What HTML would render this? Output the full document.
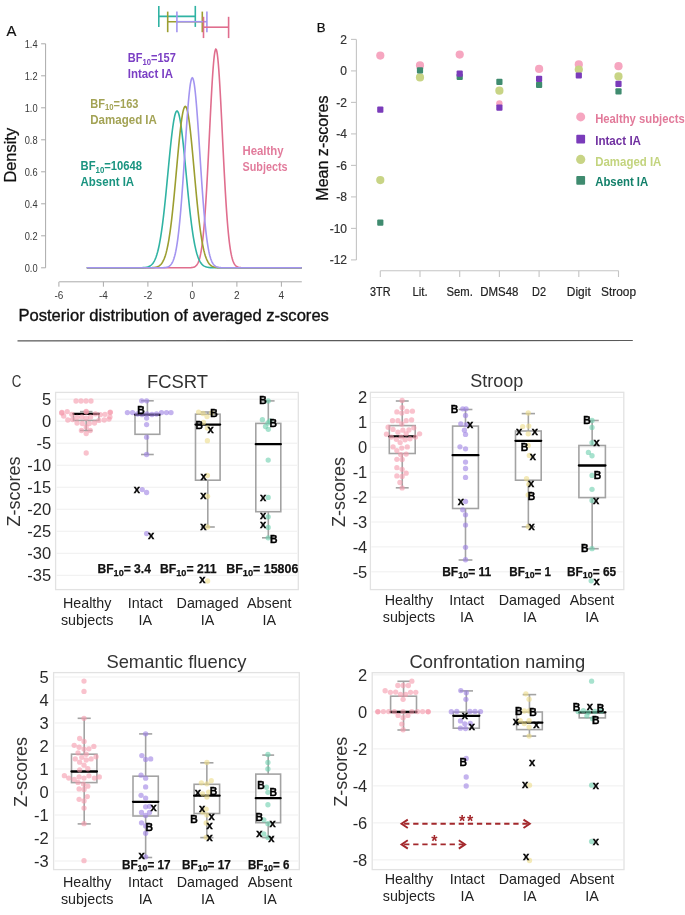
<!DOCTYPE html>
<html><head><meta charset="utf-8"><style>
html,body{margin:0;padding:0;background:#fff;}
svg{display:block;font-family:"Liberation Sans", sans-serif;will-change:transform;}
</style></head><body>
<svg width="685" height="915" viewBox="0 0 685 915">
<rect width="685" height="915" fill="#fff"/>
<text x="6.50" y="36.00" font-size="14.8" fill="#111" text-anchor="start" font-weight="normal" stroke="#111" stroke-width="0.2">A</text>
<line x1="45.60" y1="43.80" x2="45.60" y2="267.80" stroke="#aaa" stroke-width="1"/>
<line x1="41.10" y1="267.80" x2="45.60" y2="267.80" stroke="#aaa" stroke-width="1"/>
<text x="37.60" y="271.55" font-size="10.6" fill="#3a3a3a" text-anchor="end" font-weight="normal" textLength="12.9" lengthAdjust="spacingAndGlyphs">0.0</text>
<line x1="41.10" y1="235.80" x2="45.60" y2="235.80" stroke="#aaa" stroke-width="1"/>
<text x="37.60" y="239.55" font-size="10.6" fill="#3a3a3a" text-anchor="end" font-weight="normal" textLength="12.9" lengthAdjust="spacingAndGlyphs">0.2</text>
<line x1="41.10" y1="203.80" x2="45.60" y2="203.80" stroke="#aaa" stroke-width="1"/>
<text x="37.60" y="207.55" font-size="10.6" fill="#3a3a3a" text-anchor="end" font-weight="normal" textLength="12.9" lengthAdjust="spacingAndGlyphs">0.4</text>
<line x1="41.10" y1="171.80" x2="45.60" y2="171.80" stroke="#aaa" stroke-width="1"/>
<text x="37.60" y="175.55" font-size="10.6" fill="#3a3a3a" text-anchor="end" font-weight="normal" textLength="12.9" lengthAdjust="spacingAndGlyphs">0.6</text>
<line x1="41.10" y1="139.80" x2="45.60" y2="139.80" stroke="#aaa" stroke-width="1"/>
<text x="37.60" y="143.55" font-size="10.6" fill="#3a3a3a" text-anchor="end" font-weight="normal" textLength="12.9" lengthAdjust="spacingAndGlyphs">0.8</text>
<line x1="41.10" y1="107.80" x2="45.60" y2="107.80" stroke="#aaa" stroke-width="1"/>
<text x="37.60" y="111.55" font-size="10.6" fill="#3a3a3a" text-anchor="end" font-weight="normal" textLength="12.9" lengthAdjust="spacingAndGlyphs">1.0</text>
<line x1="41.10" y1="75.80" x2="45.60" y2="75.80" stroke="#aaa" stroke-width="1"/>
<text x="37.60" y="79.55" font-size="10.6" fill="#3a3a3a" text-anchor="end" font-weight="normal" textLength="12.9" lengthAdjust="spacingAndGlyphs">1.2</text>
<line x1="41.10" y1="43.80" x2="45.60" y2="43.80" stroke="#aaa" stroke-width="1"/>
<text x="37.60" y="47.55" font-size="10.6" fill="#3a3a3a" text-anchor="end" font-weight="normal" textLength="12.9" lengthAdjust="spacingAndGlyphs">1.4</text>
<line x1="59.20" y1="281.80" x2="301.80" y2="281.80" stroke="#aaa" stroke-width="1"/>
<line x1="58.90" y1="281.80" x2="58.90" y2="286.70" stroke="#aaa" stroke-width="1"/>
<text x="58.90" y="298.80" font-size="10" fill="#3a3a3a" text-anchor="middle" font-weight="normal">-6</text>
<line x1="103.40" y1="281.80" x2="103.40" y2="286.70" stroke="#aaa" stroke-width="1"/>
<text x="103.40" y="298.80" font-size="10" fill="#3a3a3a" text-anchor="middle" font-weight="normal">-4</text>
<line x1="147.90" y1="281.80" x2="147.90" y2="286.70" stroke="#aaa" stroke-width="1"/>
<text x="147.90" y="298.80" font-size="10" fill="#3a3a3a" text-anchor="middle" font-weight="normal">-2</text>
<line x1="192.40" y1="281.80" x2="192.40" y2="286.70" stroke="#aaa" stroke-width="1"/>
<text x="192.40" y="298.80" font-size="10" fill="#3a3a3a" text-anchor="middle" font-weight="normal">0</text>
<line x1="236.90" y1="281.80" x2="236.90" y2="286.70" stroke="#aaa" stroke-width="1"/>
<text x="236.90" y="298.80" font-size="10" fill="#3a3a3a" text-anchor="middle" font-weight="normal">2</text>
<line x1="281.40" y1="281.80" x2="281.40" y2="286.70" stroke="#aaa" stroke-width="1"/>
<text x="281.40" y="298.80" font-size="10" fill="#3a3a3a" text-anchor="middle" font-weight="normal">4</text>
<polyline points="86.80,267.80 87.30,267.80 87.80,267.80 88.30,267.80 88.80,267.80 89.30,267.80 89.80,267.80 90.30,267.80 90.80,267.80 91.30,267.80 91.80,267.80 92.30,267.80 92.80,267.80 93.30,267.80 93.80,267.80 94.30,267.80 94.80,267.80 95.30,267.80 95.80,267.80 96.30,267.80 96.80,267.80 97.30,267.80 97.80,267.80 98.30,267.80 98.80,267.80 99.30,267.80 99.80,267.80 100.30,267.80 100.80,267.80 101.30,267.80 101.80,267.80 102.30,267.80 102.80,267.80 103.30,267.80 103.80,267.80 104.30,267.80 104.80,267.80 105.30,267.80 105.80,267.80 106.30,267.80 106.80,267.80 107.30,267.80 107.80,267.80 108.30,267.80 108.80,267.80 109.30,267.80 109.80,267.80 110.30,267.80 110.80,267.80 111.30,267.80 111.80,267.80 112.30,267.80 112.80,267.80 113.30,267.80 113.80,267.80 114.30,267.80 114.80,267.80 115.30,267.80 115.80,267.80 116.30,267.80 116.80,267.80 117.30,267.80 117.80,267.80 118.30,267.80 118.80,267.80 119.30,267.80 119.80,267.80 120.30,267.80 120.80,267.80 121.30,267.80 121.80,267.80 122.30,267.80 122.80,267.80 123.30,267.80 123.80,267.80 124.30,267.80 124.80,267.80 125.30,267.80 125.80,267.80 126.30,267.80 126.80,267.80 127.30,267.80 127.80,267.80 128.30,267.80 128.80,267.80 129.30,267.80 129.80,267.80 130.30,267.80 130.80,267.80 131.30,267.80 131.80,267.80 132.30,267.80 132.80,267.80 133.30,267.80 133.80,267.80 134.30,267.80 134.80,267.80 135.30,267.80 135.80,267.80 136.30,267.80 136.80,267.80 137.30,267.80 137.80,267.80 138.30,267.80 138.80,267.80 139.30,267.80 139.80,267.80 140.30,267.80 140.80,267.80 141.30,267.80 141.80,267.80 142.30,267.80 142.80,267.80 143.30,267.80 143.80,267.80 144.30,267.80 144.80,267.80 145.30,267.80 145.80,267.80 146.30,267.80 146.80,267.80 147.30,267.80 147.80,267.80 148.30,267.80 148.80,267.80 149.30,267.80 149.80,267.80 150.30,267.80 150.80,267.80 151.30,267.80 151.80,267.80 152.30,267.80 152.80,267.80 153.30,267.80 153.80,267.80 154.30,267.80 154.80,267.80 155.30,267.80 155.80,267.80 156.30,267.80 156.80,267.80 157.30,267.80 157.80,267.80 158.30,267.80 158.80,267.80 159.30,267.80 159.80,267.80 160.30,267.80 160.80,267.80 161.30,267.80 161.80,267.80 162.30,267.80 162.80,267.80 163.30,267.80 163.80,267.80 164.30,267.80 164.80,267.80 165.30,267.80 165.80,267.80 166.30,267.80 166.80,267.80 167.30,267.80 167.80,267.80 168.30,267.80 168.80,267.80 169.30,267.80 169.80,267.80 170.30,267.80 170.80,267.80 171.30,267.80 171.80,267.80 172.30,267.80 172.80,267.80 173.30,267.80 173.80,267.80 174.30,267.80 174.80,267.80 175.30,267.80 175.80,267.80 176.30,267.80 176.80,267.80 177.30,267.80 177.80,267.80 178.30,267.80 178.80,267.80 179.30,267.80 179.80,267.80 180.30,267.80 180.80,267.80 181.30,267.80 181.80,267.80 182.30,267.80 182.80,267.80 183.30,267.80 183.80,267.80 184.30,267.80 184.80,267.80 185.30,267.80 185.80,267.80 186.30,267.79 186.80,267.79 187.30,267.79 187.80,267.78 188.30,267.77 188.80,267.76 189.30,267.75 189.80,267.73 190.30,267.71 190.80,267.68 191.30,267.63 191.80,267.58 192.30,267.50 192.80,267.41 193.30,267.29 193.80,267.13 194.30,266.94 194.80,266.69 195.30,266.37 195.80,265.99 196.30,265.50 196.80,264.91 197.30,264.19 197.80,263.31 198.30,262.25 198.80,260.98 199.30,259.47 199.80,257.69 200.30,255.60 200.80,253.16 201.30,250.35 201.80,247.11 202.30,243.41 202.80,239.23 203.30,234.53 203.80,229.28 204.30,223.46 204.80,217.08 205.30,210.11 205.80,202.57 206.30,194.49 206.80,185.89 207.30,176.83 207.80,167.36 208.30,157.56 208.80,147.52 209.30,137.34 209.80,127.13 210.30,117.03 210.80,107.15 211.30,97.64 211.80,88.63 212.30,80.26 212.80,72.66 213.30,65.95 213.80,60.24 214.30,55.64 214.80,52.22 215.30,50.03 215.80,49.13 216.30,49.51 216.80,51.19 217.30,54.13 217.80,58.27 218.30,63.54 218.80,69.86 219.30,77.12 219.80,85.20 220.30,93.97 220.80,103.30 221.30,113.04 221.80,123.07 222.30,133.25 222.80,143.46 223.30,153.57 223.80,163.48 224.30,173.09 224.80,182.32 225.30,191.11 225.80,199.41 226.30,207.16 226.80,214.36 227.30,220.98 227.80,227.02 228.30,232.49 228.80,237.41 229.30,241.80 229.80,245.69 230.30,249.10 230.80,252.08 231.30,254.67 231.80,256.89 232.30,258.79 232.80,260.41 233.30,261.77 233.80,262.91 234.30,263.86 234.80,264.64 235.30,265.28 235.80,265.80 236.30,266.23 236.80,266.57 237.30,266.84 237.80,267.06 238.30,267.23 238.80,267.36 239.30,267.47 239.80,267.55 240.30,267.61 240.80,267.66 241.30,267.70 241.80,267.72 242.30,267.74 242.80,267.76 243.30,267.77 243.80,267.78 244.30,267.78 244.80,267.79 245.30,267.79 245.80,267.79 246.30,267.80 246.80,267.80 247.30,267.80 247.80,267.80 248.30,267.80 248.80,267.80 249.30,267.80 249.80,267.80 250.30,267.80 250.80,267.80 251.30,267.80 251.80,267.80 252.30,267.80 252.80,267.80 253.30,267.80 253.80,267.80 254.30,267.80 254.80,267.80 255.30,267.80 255.80,267.80 256.30,267.80 256.80,267.80 257.30,267.80 257.80,267.80 258.30,267.80 258.80,267.80 259.30,267.80 259.80,267.80 260.30,267.80 260.80,267.80 261.30,267.80 261.80,267.80 262.30,267.80 262.80,267.80 263.30,267.80 263.80,267.80 264.30,267.80 264.80,267.80 265.30,267.80 265.80,267.80 266.30,267.80 266.80,267.80 267.30,267.80 267.80,267.80 268.30,267.80 268.80,267.80 269.30,267.80 269.80,267.80 270.30,267.80 270.80,267.80 271.30,267.80 271.80,267.80 272.30,267.80 272.80,267.80 273.30,267.80 273.80,267.80 274.30,267.80 274.80,267.80 275.30,267.80 275.80,267.80 276.30,267.80 276.80,267.80 277.30,267.80 277.80,267.80 278.30,267.80 278.80,267.80 279.30,267.80 279.80,267.80 280.30,267.80 280.80,267.80 281.30,267.80 281.80,267.80 282.30,267.80 282.80,267.80 283.30,267.80 283.80,267.80 284.30,267.80 284.80,267.80 285.30,267.80 285.80,267.80 286.30,267.80 286.80,267.80 287.30,267.80 287.80,267.80 288.30,267.80 288.80,267.80 289.30,267.80 289.80,267.80 290.30,267.80 290.80,267.80 291.30,267.80 291.80,267.80 292.30,267.80 292.80,267.80 293.30,267.80 293.80,267.80 294.30,267.80 294.80,267.80 295.30,267.80 295.80,267.80 296.30,267.80 296.80,267.80 297.30,267.80 297.80,267.80 298.30,267.80 298.80,267.80 299.30,267.80 299.80,267.80 300.30,267.80 300.80,267.80 301.30,267.80 301.80,267.80" fill="none" stroke="#e06e8e" stroke-width="1.6"/>
<polyline points="86.80,267.80 87.30,267.80 87.80,267.80 88.30,267.80 88.80,267.80 89.30,267.80 89.80,267.80 90.30,267.80 90.80,267.80 91.30,267.80 91.80,267.80 92.30,267.80 92.80,267.80 93.30,267.80 93.80,267.80 94.30,267.80 94.80,267.80 95.30,267.80 95.80,267.80 96.30,267.80 96.80,267.80 97.30,267.80 97.80,267.80 98.30,267.80 98.80,267.80 99.30,267.80 99.80,267.80 100.30,267.80 100.80,267.80 101.30,267.80 101.80,267.80 102.30,267.80 102.80,267.80 103.30,267.80 103.80,267.80 104.30,267.80 104.80,267.80 105.30,267.80 105.80,267.80 106.30,267.80 106.80,267.80 107.30,267.80 107.80,267.80 108.30,267.80 108.80,267.80 109.30,267.80 109.80,267.80 110.30,267.80 110.80,267.80 111.30,267.80 111.80,267.80 112.30,267.80 112.80,267.80 113.30,267.80 113.80,267.80 114.30,267.80 114.80,267.80 115.30,267.80 115.80,267.80 116.30,267.80 116.80,267.80 117.30,267.80 117.80,267.80 118.30,267.80 118.80,267.80 119.30,267.80 119.80,267.80 120.30,267.80 120.80,267.80 121.30,267.80 121.80,267.80 122.30,267.80 122.80,267.80 123.30,267.80 123.80,267.80 124.30,267.80 124.80,267.80 125.30,267.80 125.80,267.80 126.30,267.80 126.80,267.80 127.30,267.80 127.80,267.80 128.30,267.80 128.80,267.80 129.30,267.80 129.80,267.80 130.30,267.80 130.80,267.80 131.30,267.80 131.80,267.80 132.30,267.80 132.80,267.80 133.30,267.80 133.80,267.80 134.30,267.80 134.80,267.80 135.30,267.80 135.80,267.79 136.30,267.79 136.80,267.79 137.30,267.79 137.80,267.79 138.30,267.78 138.80,267.78 139.30,267.77 139.80,267.77 140.30,267.76 140.80,267.75 141.30,267.73 141.80,267.72 142.30,267.70 142.80,267.67 143.30,267.65 143.80,267.61 144.30,267.57 144.80,267.52 145.30,267.46 145.80,267.39 146.30,267.30 146.80,267.20 147.30,267.08 147.80,266.93 148.30,266.77 148.80,266.57 149.30,266.34 149.80,266.08 150.30,265.77 150.80,265.41 151.30,265.00 151.80,264.53 152.30,264.00 152.80,263.39 153.30,262.69 153.80,261.91 154.30,261.02 154.80,260.03 155.30,258.92 155.80,257.68 156.30,256.30 156.80,254.77 157.30,253.08 157.80,251.23 158.30,249.20 158.80,246.99 159.30,244.58 159.80,241.97 160.30,239.16 160.80,236.14 161.30,232.91 161.80,229.46 162.30,225.80 162.80,221.94 163.30,217.87 163.80,213.60 164.30,209.15 164.80,204.52 165.30,199.74 165.80,194.82 166.30,189.78 166.80,184.65 167.30,179.45 167.80,174.21 168.30,168.96 168.80,163.73 169.30,158.56 169.80,153.49 170.30,148.54 170.80,143.76 171.30,139.18 171.80,134.83 172.30,130.76 172.80,126.99 173.30,123.56 173.80,120.49 174.30,117.82 174.80,115.56 175.30,113.74 175.80,112.37 176.30,111.47 176.80,111.04 177.30,111.09 177.80,111.61 178.30,112.61 178.80,114.07 179.30,115.98 179.80,118.32 180.30,121.07 180.80,124.21 181.30,127.72 181.80,131.55 182.30,135.68 182.80,140.07 183.30,144.70 183.80,149.52 184.30,154.49 184.80,159.59 185.30,164.77 185.80,170.01 186.30,175.26 186.80,180.49 187.30,185.68 187.80,190.80 188.30,195.81 188.80,200.71 189.30,205.46 189.80,210.05 190.30,214.47 190.80,218.70 191.30,222.73 191.80,226.55 192.30,230.17 192.80,233.57 193.30,236.76 193.80,239.74 194.30,242.51 194.80,245.08 195.30,247.45 195.80,249.62 196.30,251.62 196.80,253.43 197.30,255.09 197.80,256.58 198.30,257.93 198.80,259.15 199.30,260.24 199.80,261.21 200.30,262.07 200.80,262.84 201.30,263.52 201.80,264.11 202.30,264.63 202.80,265.09 203.30,265.49 203.80,265.83 204.30,266.13 204.80,266.39 205.30,266.61 205.80,266.80 206.30,266.96 206.80,267.10 207.30,267.22 207.80,267.32 208.30,267.40 208.80,267.47 209.30,267.53 209.80,267.58 210.30,267.62 210.80,267.65 211.30,267.68 211.80,267.70 212.30,267.72 212.80,267.74 213.30,267.75 213.80,267.76 214.30,267.77 214.80,267.77 215.30,267.78 215.80,267.78 216.30,267.79 216.80,267.79 217.30,267.79 217.80,267.79 218.30,267.80 218.80,267.80 219.30,267.80 219.80,267.80 220.30,267.80 220.80,267.80 221.30,267.80 221.80,267.80 222.30,267.80 222.80,267.80 223.30,267.80 223.80,267.80 224.30,267.80 224.80,267.80 225.30,267.80 225.80,267.80 226.30,267.80 226.80,267.80 227.30,267.80 227.80,267.80 228.30,267.80 228.80,267.80 229.30,267.80 229.80,267.80 230.30,267.80 230.80,267.80 231.30,267.80 231.80,267.80 232.30,267.80 232.80,267.80 233.30,267.80 233.80,267.80 234.30,267.80 234.80,267.80 235.30,267.80 235.80,267.80 236.30,267.80 236.80,267.80 237.30,267.80 237.80,267.80 238.30,267.80 238.80,267.80 239.30,267.80 239.80,267.80 240.30,267.80 240.80,267.80 241.30,267.80 241.80,267.80 242.30,267.80 242.80,267.80 243.30,267.80 243.80,267.80 244.30,267.80 244.80,267.80 245.30,267.80 245.80,267.80 246.30,267.80 246.80,267.80 247.30,267.80 247.80,267.80 248.30,267.80 248.80,267.80 249.30,267.80 249.80,267.80 250.30,267.80 250.80,267.80 251.30,267.80 251.80,267.80 252.30,267.80 252.80,267.80 253.30,267.80 253.80,267.80 254.30,267.80 254.80,267.80 255.30,267.80 255.80,267.80 256.30,267.80 256.80,267.80 257.30,267.80 257.80,267.80 258.30,267.80 258.80,267.80 259.30,267.80 259.80,267.80 260.30,267.80 260.80,267.80 261.30,267.80 261.80,267.80 262.30,267.80 262.80,267.80 263.30,267.80 263.80,267.80 264.30,267.80 264.80,267.80 265.30,267.80 265.80,267.80 266.30,267.80 266.80,267.80 267.30,267.80 267.80,267.80 268.30,267.80 268.80,267.80 269.30,267.80 269.80,267.80 270.30,267.80 270.80,267.80 271.30,267.80 271.80,267.80 272.30,267.80 272.80,267.80 273.30,267.80 273.80,267.80 274.30,267.80 274.80,267.80 275.30,267.80 275.80,267.80 276.30,267.80 276.80,267.80 277.30,267.80 277.80,267.80 278.30,267.80 278.80,267.80 279.30,267.80 279.80,267.80 280.30,267.80 280.80,267.80 281.30,267.80 281.80,267.80 282.30,267.80 282.80,267.80 283.30,267.80 283.80,267.80 284.30,267.80 284.80,267.80 285.30,267.80 285.80,267.80 286.30,267.80 286.80,267.80 287.30,267.80 287.80,267.80 288.30,267.80 288.80,267.80 289.30,267.80 289.80,267.80 290.30,267.80 290.80,267.80 291.30,267.80 291.80,267.80 292.30,267.80 292.80,267.80 293.30,267.80 293.80,267.80 294.30,267.80 294.80,267.80 295.30,267.80 295.80,267.80 296.30,267.80 296.80,267.80 297.30,267.80 297.80,267.80 298.30,267.80 298.80,267.80 299.30,267.80 299.80,267.80 300.30,267.80 300.80,267.80 301.30,267.80 301.80,267.80" fill="none" stroke="#30b3a3" stroke-width="1.6"/>
<polyline points="86.80,267.80 87.30,267.80 87.80,267.80 88.30,267.80 88.80,267.80 89.30,267.80 89.80,267.80 90.30,267.80 90.80,267.80 91.30,267.80 91.80,267.80 92.30,267.80 92.80,267.80 93.30,267.80 93.80,267.80 94.30,267.80 94.80,267.80 95.30,267.80 95.80,267.80 96.30,267.80 96.80,267.80 97.30,267.80 97.80,267.80 98.30,267.80 98.80,267.80 99.30,267.80 99.80,267.80 100.30,267.80 100.80,267.80 101.30,267.80 101.80,267.80 102.30,267.80 102.80,267.80 103.30,267.80 103.80,267.80 104.30,267.80 104.80,267.80 105.30,267.80 105.80,267.80 106.30,267.80 106.80,267.80 107.30,267.80 107.80,267.80 108.30,267.80 108.80,267.80 109.30,267.80 109.80,267.80 110.30,267.80 110.80,267.80 111.30,267.80 111.80,267.80 112.30,267.80 112.80,267.80 113.30,267.80 113.80,267.80 114.30,267.80 114.80,267.80 115.30,267.80 115.80,267.80 116.30,267.80 116.80,267.80 117.30,267.80 117.80,267.80 118.30,267.80 118.80,267.80 119.30,267.80 119.80,267.80 120.30,267.80 120.80,267.80 121.30,267.80 121.80,267.80 122.30,267.80 122.80,267.80 123.30,267.80 123.80,267.80 124.30,267.80 124.80,267.80 125.30,267.80 125.80,267.80 126.30,267.80 126.80,267.80 127.30,267.80 127.80,267.80 128.30,267.80 128.80,267.80 129.30,267.80 129.80,267.80 130.30,267.80 130.80,267.80 131.30,267.80 131.80,267.80 132.30,267.80 132.80,267.80 133.30,267.80 133.80,267.80 134.30,267.80 134.80,267.80 135.30,267.80 135.80,267.80 136.30,267.80 136.80,267.80 137.30,267.80 137.80,267.80 138.30,267.80 138.80,267.80 139.30,267.80 139.80,267.80 140.30,267.80 140.80,267.80 141.30,267.80 141.80,267.80 142.30,267.80 142.80,267.80 143.30,267.80 143.80,267.80 144.30,267.80 144.80,267.80 145.30,267.79 145.80,267.79 146.30,267.79 146.80,267.79 147.30,267.79 147.80,267.78 148.30,267.78 148.80,267.77 149.30,267.76 149.80,267.75 150.30,267.74 150.80,267.73 151.30,267.71 151.80,267.69 152.30,267.66 152.80,267.63 153.30,267.59 153.80,267.54 154.30,267.48 154.80,267.41 155.30,267.32 155.80,267.22 156.30,267.10 156.80,266.96 157.30,266.79 157.80,266.59 158.30,266.35 158.80,266.08 159.30,265.76 159.80,265.39 160.30,264.96 160.80,264.47 161.30,263.91 161.80,263.26 162.30,262.52 162.80,261.69 163.30,260.74 163.80,259.68 164.30,258.48 164.80,257.14 165.30,255.65 165.80,253.99 166.30,252.16 166.80,250.15 167.30,247.93 167.80,245.52 168.30,242.89 168.80,240.04 169.30,236.96 169.80,233.65 170.30,230.11 170.80,226.34 171.30,222.34 171.80,218.11 172.30,213.66 172.80,209.01 173.30,204.16 173.80,199.14 174.30,193.96 174.80,188.64 175.30,183.22 175.80,177.71 176.30,172.16 176.80,166.59 177.30,161.04 177.80,155.55 178.30,150.16 178.80,144.91 179.30,139.85 179.80,135.00 180.30,130.41 180.80,126.12 181.30,122.18 181.80,118.60 182.30,115.43 182.80,112.70 183.30,110.42 183.80,108.63 184.30,107.34 184.80,106.56 185.30,106.30 185.80,106.56 186.30,107.34 186.80,108.63 187.30,110.42 187.80,112.70 188.30,115.43 188.80,118.60 189.30,122.18 189.80,126.12 190.30,130.41 190.80,135.00 191.30,139.85 191.80,144.91 192.30,150.16 192.80,155.55 193.30,161.04 193.80,166.59 194.30,172.16 194.80,177.71 195.30,183.22 195.80,188.64 196.30,193.96 196.80,199.14 197.30,204.16 197.80,209.01 198.30,213.66 198.80,218.11 199.30,222.34 199.80,226.34 200.30,230.11 200.80,233.65 201.30,236.96 201.80,240.04 202.30,242.89 202.80,245.52 203.30,247.93 203.80,250.15 204.30,252.16 204.80,253.99 205.30,255.65 205.80,257.14 206.30,258.48 206.80,259.68 207.30,260.74 207.80,261.69 208.30,262.52 208.80,263.26 209.30,263.91 209.80,264.47 210.30,264.96 210.80,265.39 211.30,265.76 211.80,266.08 212.30,266.35 212.80,266.59 213.30,266.79 213.80,266.96 214.30,267.10 214.80,267.22 215.30,267.32 215.80,267.41 216.30,267.48 216.80,267.54 217.30,267.59 217.80,267.63 218.30,267.66 218.80,267.69 219.30,267.71 219.80,267.73 220.30,267.74 220.80,267.75 221.30,267.76 221.80,267.77 222.30,267.78 222.80,267.78 223.30,267.79 223.80,267.79 224.30,267.79 224.80,267.79 225.30,267.79 225.80,267.80 226.30,267.80 226.80,267.80 227.30,267.80 227.80,267.80 228.30,267.80 228.80,267.80 229.30,267.80 229.80,267.80 230.30,267.80 230.80,267.80 231.30,267.80 231.80,267.80 232.30,267.80 232.80,267.80 233.30,267.80 233.80,267.80 234.30,267.80 234.80,267.80 235.30,267.80 235.80,267.80 236.30,267.80 236.80,267.80 237.30,267.80 237.80,267.80 238.30,267.80 238.80,267.80 239.30,267.80 239.80,267.80 240.30,267.80 240.80,267.80 241.30,267.80 241.80,267.80 242.30,267.80 242.80,267.80 243.30,267.80 243.80,267.80 244.30,267.80 244.80,267.80 245.30,267.80 245.80,267.80 246.30,267.80 246.80,267.80 247.30,267.80 247.80,267.80 248.30,267.80 248.80,267.80 249.30,267.80 249.80,267.80 250.30,267.80 250.80,267.80 251.30,267.80 251.80,267.80 252.30,267.80 252.80,267.80 253.30,267.80 253.80,267.80 254.30,267.80 254.80,267.80 255.30,267.80 255.80,267.80 256.30,267.80 256.80,267.80 257.30,267.80 257.80,267.80 258.30,267.80 258.80,267.80 259.30,267.80 259.80,267.80 260.30,267.80 260.80,267.80 261.30,267.80 261.80,267.80 262.30,267.80 262.80,267.80 263.30,267.80 263.80,267.80 264.30,267.80 264.80,267.80 265.30,267.80 265.80,267.80 266.30,267.80 266.80,267.80 267.30,267.80 267.80,267.80 268.30,267.80 268.80,267.80 269.30,267.80 269.80,267.80 270.30,267.80 270.80,267.80 271.30,267.80 271.80,267.80 272.30,267.80 272.80,267.80 273.30,267.80 273.80,267.80 274.30,267.80 274.80,267.80 275.30,267.80 275.80,267.80 276.30,267.80 276.80,267.80 277.30,267.80 277.80,267.80 278.30,267.80 278.80,267.80 279.30,267.80 279.80,267.80 280.30,267.80 280.80,267.80 281.30,267.80 281.80,267.80 282.30,267.80 282.80,267.80 283.30,267.80 283.80,267.80 284.30,267.80 284.80,267.80 285.30,267.80 285.80,267.80 286.30,267.80 286.80,267.80 287.30,267.80 287.80,267.80 288.30,267.80 288.80,267.80 289.30,267.80 289.80,267.80 290.30,267.80 290.80,267.80 291.30,267.80 291.80,267.80 292.30,267.80 292.80,267.80 293.30,267.80 293.80,267.80 294.30,267.80 294.80,267.80 295.30,267.80 295.80,267.80 296.30,267.80 296.80,267.80 297.30,267.80 297.80,267.80 298.30,267.80 298.80,267.80 299.30,267.80 299.80,267.80 300.30,267.80 300.80,267.80 301.30,267.80 301.80,267.80" fill="none" stroke="#9c9e30" stroke-width="1.6"/>
<polyline points="86.80,267.80 87.30,267.80 87.80,267.80 88.30,267.80 88.80,267.80 89.30,267.80 89.80,267.80 90.30,267.80 90.80,267.80 91.30,267.80 91.80,267.80 92.30,267.80 92.80,267.80 93.30,267.80 93.80,267.80 94.30,267.80 94.80,267.80 95.30,267.80 95.80,267.80 96.30,267.80 96.80,267.80 97.30,267.80 97.80,267.80 98.30,267.80 98.80,267.80 99.30,267.80 99.80,267.80 100.30,267.80 100.80,267.80 101.30,267.80 101.80,267.80 102.30,267.80 102.80,267.80 103.30,267.80 103.80,267.80 104.30,267.80 104.80,267.80 105.30,267.80 105.80,267.80 106.30,267.80 106.80,267.80 107.30,267.80 107.80,267.80 108.30,267.80 108.80,267.80 109.30,267.80 109.80,267.80 110.30,267.80 110.80,267.80 111.30,267.80 111.80,267.80 112.30,267.80 112.80,267.80 113.30,267.80 113.80,267.80 114.30,267.80 114.80,267.80 115.30,267.80 115.80,267.80 116.30,267.80 116.80,267.80 117.30,267.80 117.80,267.80 118.30,267.80 118.80,267.80 119.30,267.80 119.80,267.80 120.30,267.80 120.80,267.80 121.30,267.80 121.80,267.80 122.30,267.80 122.80,267.80 123.30,267.80 123.80,267.80 124.30,267.80 124.80,267.80 125.30,267.80 125.80,267.80 126.30,267.80 126.80,267.80 127.30,267.80 127.80,267.80 128.30,267.80 128.80,267.80 129.30,267.80 129.80,267.80 130.30,267.80 130.80,267.80 131.30,267.80 131.80,267.80 132.30,267.80 132.80,267.80 133.30,267.80 133.80,267.80 134.30,267.80 134.80,267.80 135.30,267.80 135.80,267.80 136.30,267.80 136.80,267.80 137.30,267.80 137.80,267.80 138.30,267.80 138.80,267.80 139.30,267.80 139.80,267.80 140.30,267.80 140.80,267.80 141.30,267.80 141.80,267.80 142.30,267.80 142.80,267.80 143.30,267.80 143.80,267.80 144.30,267.80 144.80,267.80 145.30,267.80 145.80,267.80 146.30,267.80 146.80,267.80 147.30,267.80 147.80,267.80 148.30,267.80 148.80,267.80 149.30,267.80 149.80,267.80 150.30,267.80 150.80,267.80 151.30,267.80 151.80,267.80 152.30,267.80 152.80,267.80 153.30,267.80 153.80,267.80 154.30,267.80 154.80,267.80 155.30,267.80 155.80,267.80 156.30,267.80 156.80,267.80 157.30,267.80 157.80,267.80 158.30,267.79 158.80,267.79 159.30,267.79 159.80,267.79 160.30,267.78 160.80,267.77 161.30,267.77 161.80,267.75 162.30,267.74 162.80,267.72 163.30,267.70 163.80,267.67 164.30,267.63 164.80,267.58 165.30,267.52 165.80,267.45 166.30,267.35 166.80,267.24 167.30,267.09 167.80,266.92 168.30,266.70 168.80,266.45 169.30,266.13 169.80,265.76 170.30,265.30 170.80,264.77 171.30,264.13 171.80,263.38 172.30,262.51 172.80,261.48 173.30,260.30 173.80,258.92 174.30,257.35 174.80,255.55 175.30,253.50 175.80,251.19 176.30,248.59 176.80,245.68 177.30,242.45 177.80,238.87 178.30,234.93 178.80,230.63 179.30,225.95 179.80,220.89 180.30,215.45 180.80,209.64 181.30,203.48 181.80,196.98 182.30,190.18 182.80,183.10 183.30,175.79 183.80,168.29 184.30,160.66 184.80,152.96 185.30,145.27 185.80,137.63 186.30,130.14 186.80,122.87 187.30,115.90 187.80,109.30 188.30,103.15 188.80,97.53 189.30,92.51 189.80,88.14 190.30,84.48 190.80,81.59 191.30,79.49 191.80,78.22 192.30,77.80 192.80,78.22 193.30,79.49 193.80,81.59 194.30,84.48 194.80,88.14 195.30,92.51 195.80,97.53 196.30,103.15 196.80,109.30 197.30,115.90 197.80,122.87 198.30,130.14 198.80,137.63 199.30,145.27 199.80,152.96 200.30,160.66 200.80,168.29 201.30,175.79 201.80,183.10 202.30,190.18 202.80,196.98 203.30,203.48 203.80,209.64 204.30,215.45 204.80,220.89 205.30,225.95 205.80,230.63 206.30,234.93 206.80,238.87 207.30,242.45 207.80,245.68 208.30,248.59 208.80,251.19 209.30,253.50 209.80,255.55 210.30,257.35 210.80,258.92 211.30,260.30 211.80,261.48 212.30,262.51 212.80,263.38 213.30,264.13 213.80,264.77 214.30,265.30 214.80,265.76 215.30,266.13 215.80,266.45 216.30,266.70 216.80,266.92 217.30,267.09 217.80,267.24 218.30,267.35 218.80,267.45 219.30,267.52 219.80,267.58 220.30,267.63 220.80,267.67 221.30,267.70 221.80,267.72 222.30,267.74 222.80,267.75 223.30,267.77 223.80,267.77 224.30,267.78 224.80,267.79 225.30,267.79 225.80,267.79 226.30,267.79 226.80,267.80 227.30,267.80 227.80,267.80 228.30,267.80 228.80,267.80 229.30,267.80 229.80,267.80 230.30,267.80 230.80,267.80 231.30,267.80 231.80,267.80 232.30,267.80 232.80,267.80 233.30,267.80 233.80,267.80 234.30,267.80 234.80,267.80 235.30,267.80 235.80,267.80 236.30,267.80 236.80,267.80 237.30,267.80 237.80,267.80 238.30,267.80 238.80,267.80 239.30,267.80 239.80,267.80 240.30,267.80 240.80,267.80 241.30,267.80 241.80,267.80 242.30,267.80 242.80,267.80 243.30,267.80 243.80,267.80 244.30,267.80 244.80,267.80 245.30,267.80 245.80,267.80 246.30,267.80 246.80,267.80 247.30,267.80 247.80,267.80 248.30,267.80 248.80,267.80 249.30,267.80 249.80,267.80 250.30,267.80 250.80,267.80 251.30,267.80 251.80,267.80 252.30,267.80 252.80,267.80 253.30,267.80 253.80,267.80 254.30,267.80 254.80,267.80 255.30,267.80 255.80,267.80 256.30,267.80 256.80,267.80 257.30,267.80 257.80,267.80 258.30,267.80 258.80,267.80 259.30,267.80 259.80,267.80 260.30,267.80 260.80,267.80 261.30,267.80 261.80,267.80 262.30,267.80 262.80,267.80 263.30,267.80 263.80,267.80 264.30,267.80 264.80,267.80 265.30,267.80 265.80,267.80 266.30,267.80 266.80,267.80 267.30,267.80 267.80,267.80 268.30,267.80 268.80,267.80 269.30,267.80 269.80,267.80 270.30,267.80 270.80,267.80 271.30,267.80 271.80,267.80 272.30,267.80 272.80,267.80 273.30,267.80 273.80,267.80 274.30,267.80 274.80,267.80 275.30,267.80 275.80,267.80 276.30,267.80 276.80,267.80 277.30,267.80 277.80,267.80 278.30,267.80 278.80,267.80 279.30,267.80 279.80,267.80 280.30,267.80 280.80,267.80 281.30,267.80 281.80,267.80 282.30,267.80 282.80,267.80 283.30,267.80 283.80,267.80 284.30,267.80 284.80,267.80 285.30,267.80 285.80,267.80 286.30,267.80 286.80,267.80 287.30,267.80 287.80,267.80 288.30,267.80 288.80,267.80 289.30,267.80 289.80,267.80 290.30,267.80 290.80,267.80 291.30,267.80 291.80,267.80 292.30,267.80 292.80,267.80 293.30,267.80 293.80,267.80 294.30,267.80 294.80,267.80 295.30,267.80 295.80,267.80 296.30,267.80 296.80,267.80 297.30,267.80 297.80,267.80 298.30,267.80 298.80,267.80 299.30,267.80 299.80,267.80 300.30,267.80 300.80,267.80 301.30,267.80 301.80,267.80" fill="none" stroke="#a394f0" stroke-width="1.6"/>
<line x1="158.80" y1="16.40" x2="195.30" y2="16.40" stroke="#30b3a3" stroke-width="1.6"/>
<line x1="158.80" y1="5.90" x2="158.80" y2="26.90" stroke="#30b3a3" stroke-width="1.6"/>
<line x1="195.30" y1="5.90" x2="195.30" y2="26.90" stroke="#30b3a3" stroke-width="1.6"/>
<line x1="167.70" y1="21.70" x2="202.30" y2="21.70" stroke="#9c9e30" stroke-width="1.6"/>
<line x1="167.70" y1="11.60" x2="167.70" y2="32.20" stroke="#9c9e30" stroke-width="1.6"/>
<line x1="202.30" y1="11.60" x2="202.30" y2="32.20" stroke="#9c9e30" stroke-width="1.6"/>
<line x1="176.90" y1="21.70" x2="206.90" y2="21.70" stroke="#a394f0" stroke-width="1.6"/>
<line x1="176.90" y1="11.60" x2="176.90" y2="32.20" stroke="#a394f0" stroke-width="1.6"/>
<line x1="206.90" y1="11.60" x2="206.90" y2="32.20" stroke="#a394f0" stroke-width="1.6"/>
<line x1="203.50" y1="27.20" x2="228.60" y2="27.20" stroke="#e06e8e" stroke-width="1.6"/>
<line x1="203.50" y1="16.80" x2="203.50" y2="38.10" stroke="#e06e8e" stroke-width="1.6"/>
<line x1="228.60" y1="16.80" x2="228.60" y2="38.10" stroke="#e06e8e" stroke-width="1.6"/>
<text x="127.7" y="62.3" font-size="12.3" font-weight="bold" fill="#7b3fc4" textLength="48.1" lengthAdjust="spacingAndGlyphs">BF<tspan font-size="8.6" dy="2.4">10</tspan><tspan dy="-2.4">=157</tspan></text>
<text x="127.70" y="77.90" font-size="12.3" fill="#7b3fc4" text-anchor="start" font-weight="bold" textLength="45.3" lengthAdjust="spacingAndGlyphs">Intact IA</text>
<text x="90.3" y="107.6" font-size="12.3" font-weight="bold" fill="#a3a355" textLength="48.1" lengthAdjust="spacingAndGlyphs">BF<tspan font-size="8.6" dy="2.4">10</tspan><tspan dy="-2.4">=163</tspan></text>
<text x="90.30" y="123.80" font-size="12.3" fill="#a3a355" text-anchor="start" font-weight="bold" textLength="66.6" lengthAdjust="spacingAndGlyphs">Damaged IA</text>
<text x="80.6" y="170.3" font-size="12.3" font-weight="bold" fill="#1a9480" textLength="61.5" lengthAdjust="spacingAndGlyphs">BF<tspan font-size="8.6" dy="2.4">10</tspan><tspan dy="-2.4">=10648</tspan></text>
<text x="80.60" y="186.00" font-size="12.3" fill="#1a9480" text-anchor="start" font-weight="bold" textLength="53.5" lengthAdjust="spacingAndGlyphs">Absent IA</text>
<text x="242.50" y="155.00" font-size="12.3" fill="#e27c9c" text-anchor="start" font-weight="bold" textLength="41.1" lengthAdjust="spacingAndGlyphs">Healthy</text>
<text x="242.50" y="170.90" font-size="12.3" fill="#e27c9c" text-anchor="start" font-weight="bold" textLength="45.0" lengthAdjust="spacingAndGlyphs">Subjects</text>
<text x="18.40" y="320.60" font-size="16.5" fill="#111" text-anchor="start" font-weight="normal" textLength="310.5" lengthAdjust="spacingAndGlyphs" stroke="#111" stroke-width="0.35">Posterior distribution of averaged z-scores</text>
<text x="15.60" y="182.60" font-size="16.5" fill="#111" text-anchor="start" font-weight="normal" textLength="54.7" lengthAdjust="spacingAndGlyphs" transform="rotate(-90 15.60 182.60)" stroke="#111" stroke-width="0.25">Density</text>
<text x="316.80" y="32.10" font-size="13.2" fill="#111" text-anchor="start" font-weight="normal" stroke="#111" stroke-width="0.25">B</text>
<line x1="356.40" y1="39.40" x2="356.40" y2="260.00" stroke="#c4c4c4" stroke-width="1.1"/>
<line x1="351.00" y1="39.40" x2="356.40" y2="39.40" stroke="#c4c4c4" stroke-width="1.1"/>
<text x="347.00" y="43.60" font-size="12" fill="#333" text-anchor="end" font-weight="normal" stroke="#333" stroke-width="0.2">2</text>
<line x1="351.00" y1="70.90" x2="356.40" y2="70.90" stroke="#c4c4c4" stroke-width="1.1"/>
<text x="347.00" y="75.10" font-size="12" fill="#333" text-anchor="end" font-weight="normal" stroke="#333" stroke-width="0.2">0</text>
<line x1="351.00" y1="102.40" x2="356.40" y2="102.40" stroke="#c4c4c4" stroke-width="1.1"/>
<text x="347.00" y="106.60" font-size="12" fill="#333" text-anchor="end" font-weight="normal" stroke="#333" stroke-width="0.2">-2</text>
<line x1="351.00" y1="133.90" x2="356.40" y2="133.90" stroke="#c4c4c4" stroke-width="1.1"/>
<text x="347.00" y="138.10" font-size="12" fill="#333" text-anchor="end" font-weight="normal" stroke="#333" stroke-width="0.2">-4</text>
<line x1="351.00" y1="165.40" x2="356.40" y2="165.40" stroke="#c4c4c4" stroke-width="1.1"/>
<text x="347.00" y="169.60" font-size="12" fill="#333" text-anchor="end" font-weight="normal" stroke="#333" stroke-width="0.2">-6</text>
<line x1="351.00" y1="196.90" x2="356.40" y2="196.90" stroke="#c4c4c4" stroke-width="1.1"/>
<text x="347.00" y="201.10" font-size="12" fill="#333" text-anchor="end" font-weight="normal" stroke="#333" stroke-width="0.2">-8</text>
<line x1="351.00" y1="228.40" x2="356.40" y2="228.40" stroke="#c4c4c4" stroke-width="1.1"/>
<text x="347.00" y="232.60" font-size="12" fill="#333" text-anchor="end" font-weight="normal" stroke="#333" stroke-width="0.2">-10</text>
<line x1="351.00" y1="259.90" x2="356.40" y2="259.90" stroke="#c4c4c4" stroke-width="1.1"/>
<text x="347.00" y="264.10" font-size="12" fill="#333" text-anchor="end" font-weight="normal" stroke="#333" stroke-width="0.2">-12</text>
<line x1="380.30" y1="270.70" x2="618.50" y2="270.70" stroke="#c4c4c4" stroke-width="1.1"/>
<line x1="380.30" y1="270.70" x2="380.30" y2="277.00" stroke="#c4c4c4" stroke-width="1.1"/>
<text x="380.30" y="296.20" font-size="13" fill="#222" text-anchor="middle" font-weight="normal" textLength="20.5" lengthAdjust="spacingAndGlyphs" stroke="#222" stroke-width="0.2">3TR</text>
<line x1="420.00" y1="270.70" x2="420.00" y2="277.00" stroke="#c4c4c4" stroke-width="1.1"/>
<text x="420.00" y="296.20" font-size="13" fill="#222" text-anchor="middle" font-weight="normal" textLength="15.2" lengthAdjust="spacingAndGlyphs" stroke="#222" stroke-width="0.2">Lit.</text>
<line x1="459.70" y1="270.70" x2="459.70" y2="277.00" stroke="#c4c4c4" stroke-width="1.1"/>
<text x="459.70" y="296.20" font-size="13" fill="#222" text-anchor="middle" font-weight="normal" textLength="26.3" lengthAdjust="spacingAndGlyphs" stroke="#222" stroke-width="0.2">Sem.</text>
<line x1="499.40" y1="270.70" x2="499.40" y2="277.00" stroke="#c4c4c4" stroke-width="1.1"/>
<text x="499.40" y="296.20" font-size="13" fill="#222" text-anchor="middle" font-weight="normal" textLength="38.2" lengthAdjust="spacingAndGlyphs" stroke="#222" stroke-width="0.2">DMS48</text>
<line x1="539.10" y1="270.70" x2="539.10" y2="277.00" stroke="#c4c4c4" stroke-width="1.1"/>
<text x="539.10" y="296.20" font-size="13" fill="#222" text-anchor="middle" font-weight="normal" textLength="14" lengthAdjust="spacingAndGlyphs" stroke="#222" stroke-width="0.2">D2</text>
<line x1="578.80" y1="270.70" x2="578.80" y2="277.00" stroke="#c4c4c4" stroke-width="1.1"/>
<text x="578.80" y="296.20" font-size="13" fill="#222" text-anchor="middle" font-weight="normal" textLength="23.9" lengthAdjust="spacingAndGlyphs" stroke="#222" stroke-width="0.2">Digit</text>
<line x1="618.50" y1="270.70" x2="618.50" y2="277.00" stroke="#c4c4c4" stroke-width="1.1"/>
<text x="618.50" y="296.20" font-size="13" fill="#222" text-anchor="middle" font-weight="normal" textLength="35" lengthAdjust="spacingAndGlyphs" stroke="#222" stroke-width="0.2">Stroop</text>
<text x="328.20" y="200.70" font-size="15.8" fill="#111" text-anchor="start" font-weight="normal" textLength="105.2" lengthAdjust="spacingAndGlyphs" transform="rotate(-90 328.20 200.70)" stroke="#111" stroke-width="0.25">Mean z-scores</text>
<circle cx="380.30" cy="55.60" r="4.1" fill="#f6a6c0"/>
<circle cx="380.30" cy="180.10" r="4.1" fill="#c8d485"/>
<rect x="377.20" y="219.60" width="6.2" height="6.2" rx="1" fill="#3f8b6f"/>
<rect x="377.20" y="106.60" width="6.2" height="6.2" rx="1" fill="#7a3bba"/>
<circle cx="420.00" cy="65.40" r="4.1" fill="#f6a6c0"/>
<circle cx="420.00" cy="77.40" r="4.1" fill="#c8d485"/>
<rect x="416.90" y="67.30" width="6.2" height="6.2" rx="1" fill="#3f8b6f"/>
<circle cx="459.70" cy="54.60" r="4.1" fill="#f6a6c0"/>
<rect x="456.60" y="73.70" width="6.2" height="6.2" rx="1" fill="#3f8b6f"/>
<rect x="456.60" y="70.50" width="6.2" height="6.2" rx="1" fill="#7a3bba"/>
<circle cx="499.40" cy="103.50" r="3.2" fill="#f6a6c0"/>
<circle cx="499.40" cy="90.70" r="4.1" fill="#c8d485"/>
<rect x="496.30" y="78.70" width="6.2" height="6.2" rx="1" fill="#3f8b6f"/>
<rect x="496.30" y="104.50" width="6.2" height="6.2" rx="1" fill="#7a3bba"/>
<circle cx="539.10" cy="68.90" r="4.1" fill="#f6a6c0"/>
<rect x="536.00" y="81.70" width="6.2" height="6.2" rx="1" fill="#3f8b6f"/>
<rect x="536.00" y="75.70" width="6.2" height="6.2" rx="1" fill="#7a3bba"/>
<circle cx="578.80" cy="64.40" r="4.1" fill="#f6a6c0"/>
<circle cx="578.80" cy="69.50" r="4.1" fill="#c8d485"/>
<rect x="575.70" y="72.40" width="6.2" height="6.2" rx="1" fill="#7a3bba"/>
<circle cx="618.50" cy="66.20" r="4.1" fill="#f6a6c0"/>
<circle cx="618.50" cy="76.40" r="4.1" fill="#c8d485"/>
<rect x="615.40" y="88.30" width="6.2" height="6.2" rx="1" fill="#3f8b6f"/>
<rect x="615.40" y="80.80" width="6.2" height="6.2" rx="1" fill="#7a3bba"/>
<circle cx="580.70" cy="116.90" r="4.5" fill="#f6a6c0"/>
<rect x="576.30" y="134.80" width="8.8" height="8.8" rx="1" fill="#7a3bba"/>
<circle cx="580.70" cy="159.40" r="4.6" fill="#c8d485"/>
<rect x="576.30" y="176.00" width="8.8" height="8.8" rx="1" fill="#3f8b6f"/>
<text x="595.20" y="123.40" font-size="12.8" fill="#e27a9a" text-anchor="start" font-weight="bold" textLength="89.5" lengthAdjust="spacingAndGlyphs">Healthy subjects</text>
<text x="595.20" y="144.50" font-size="12.8" fill="#7030a0" text-anchor="start" font-weight="bold" textLength="45.8" lengthAdjust="spacingAndGlyphs">Intact IA</text>
<text x="595.20" y="165.50" font-size="12.8" fill="#c3d47e" text-anchor="start" font-weight="bold" textLength="66.2" lengthAdjust="spacingAndGlyphs">Damaged IA</text>
<text x="595.20" y="185.50" font-size="12.8" fill="#13806a" text-anchor="start" font-weight="bold" textLength="53" lengthAdjust="spacingAndGlyphs">Absent IA</text>
<line x1="17.50" y1="340.80" x2="632.80" y2="340.50" stroke="#5a5a5a" stroke-width="1.2"/>
<text x="11.70" y="387.20" font-size="15.8" fill="#333" text-anchor="start" font-weight="normal" textLength="9.6" lengthAdjust="spacingAndGlyphs">C</text>
<rect x="55.60" y="392.40" width="242.70" height="197.20" fill="#fff" stroke="#e2e2e2" stroke-width="1.3"/>
<line x1="56.60" y1="399.19" x2="297.30" y2="399.19" stroke="#efefef" stroke-width="1.0"/>
<text x="51.20" y="405.09" font-size="16.5" fill="#2a2a2a" text-anchor="end" font-weight="normal">5</text>
<line x1="56.60" y1="421.20" x2="297.30" y2="421.20" stroke="#efefef" stroke-width="1.0"/>
<text x="51.20" y="427.10" font-size="16.5" fill="#2a2a2a" text-anchor="end" font-weight="normal">0</text>
<line x1="56.60" y1="443.21" x2="297.30" y2="443.21" stroke="#efefef" stroke-width="1.0"/>
<text x="51.20" y="449.11" font-size="16.5" fill="#2a2a2a" text-anchor="end" font-weight="normal">-5</text>
<line x1="56.60" y1="465.22" x2="297.30" y2="465.22" stroke="#efefef" stroke-width="1.0"/>
<text x="51.20" y="471.12" font-size="16.5" fill="#2a2a2a" text-anchor="end" font-weight="normal">-10</text>
<line x1="56.60" y1="487.24" x2="297.30" y2="487.24" stroke="#efefef" stroke-width="1.0"/>
<text x="51.20" y="493.14" font-size="16.5" fill="#2a2a2a" text-anchor="end" font-weight="normal">-15</text>
<line x1="56.60" y1="509.25" x2="297.30" y2="509.25" stroke="#efefef" stroke-width="1.0"/>
<text x="51.20" y="515.15" font-size="16.5" fill="#2a2a2a" text-anchor="end" font-weight="normal">-20</text>
<line x1="56.60" y1="531.26" x2="297.30" y2="531.26" stroke="#efefef" stroke-width="1.0"/>
<text x="51.20" y="537.16" font-size="16.5" fill="#2a2a2a" text-anchor="end" font-weight="normal">-25</text>
<line x1="56.60" y1="553.27" x2="297.30" y2="553.27" stroke="#efefef" stroke-width="1.0"/>
<text x="51.20" y="559.17" font-size="16.5" fill="#2a2a2a" text-anchor="end" font-weight="normal">-30</text>
<line x1="56.60" y1="575.29" x2="297.30" y2="575.29" stroke="#efefef" stroke-width="1.0"/>
<text x="51.20" y="581.19" font-size="16.5" fill="#2a2a2a" text-anchor="end" font-weight="normal">-35</text>
<text x="177.50" y="387.60" font-size="18.4" fill="#333" text-anchor="middle" font-weight="normal">FCSRT</text>
<text x="20.20" y="491.40" font-size="18" fill="#333" text-anchor="middle" font-weight="normal" transform="rotate(-90 20.20 491.40)">Z-scores</text>
<text x="87.20" y="608.30" font-size="14.3" fill="#222" text-anchor="middle" font-weight="normal">Healthy</text>
<text x="87.20" y="625.25" font-size="14.3" fill="#222" text-anchor="middle" font-weight="normal">subjects</text>
<text x="145.30" y="608.30" font-size="14.3" fill="#222" text-anchor="middle" font-weight="normal">Intact</text>
<text x="145.30" y="625.25" font-size="14.3" fill="#222" text-anchor="middle" font-weight="normal">IA</text>
<text x="207.60" y="608.30" font-size="14.3" fill="#222" text-anchor="middle" font-weight="normal">Damaged</text>
<text x="207.60" y="625.25" font-size="14.3" fill="#222" text-anchor="middle" font-weight="normal">IA</text>
<text x="269.30" y="608.30" font-size="14.3" fill="#222" text-anchor="middle" font-weight="normal">Absent</text>
<text x="269.30" y="625.25" font-size="14.3" fill="#222" text-anchor="middle" font-weight="normal">IA</text>
<line x1="86.20" y1="411.60" x2="86.20" y2="413.80" stroke="#a3a3a3" stroke-width="1.6"/>
<line x1="79.95" y1="411.60" x2="92.45" y2="411.60" stroke="#a3a3a3" stroke-width="1.6"/>
<line x1="86.20" y1="420.40" x2="86.20" y2="430.50" stroke="#a3a3a3" stroke-width="1.6"/>
<line x1="79.95" y1="430.50" x2="92.45" y2="430.50" stroke="#a3a3a3" stroke-width="1.6"/>
<rect x="73.50" y="413.80" width="25.40" height="6.60" fill="none" stroke="#a3a3a3" stroke-width="1.6"/>
<line x1="147.40" y1="400.80" x2="147.40" y2="414.60" stroke="#a3a3a3" stroke-width="1.6"/>
<line x1="141.05" y1="400.80" x2="153.75" y2="400.80" stroke="#a3a3a3" stroke-width="1.6"/>
<line x1="147.40" y1="434.30" x2="147.40" y2="454.50" stroke="#a3a3a3" stroke-width="1.6"/>
<line x1="141.05" y1="454.50" x2="153.75" y2="454.50" stroke="#a3a3a3" stroke-width="1.6"/>
<rect x="135.00" y="414.60" width="24.80" height="19.70" fill="none" stroke="#a3a3a3" stroke-width="1.6"/>
<line x1="207.80" y1="412.00" x2="207.80" y2="414.20" stroke="#a3a3a3" stroke-width="1.6"/>
<line x1="200.80" y1="412.00" x2="214.80" y2="412.00" stroke="#a3a3a3" stroke-width="1.6"/>
<line x1="207.80" y1="480.20" x2="207.80" y2="527.00" stroke="#a3a3a3" stroke-width="1.6"/>
<line x1="200.80" y1="527.00" x2="214.80" y2="527.00" stroke="#a3a3a3" stroke-width="1.6"/>
<rect x="195.50" y="414.20" width="24.60" height="66.00" fill="none" stroke="#a3a3a3" stroke-width="1.6"/>
<line x1="268.30" y1="400.90" x2="268.30" y2="423.40" stroke="#a3a3a3" stroke-width="1.6"/>
<line x1="262.00" y1="400.90" x2="274.60" y2="400.90" stroke="#a3a3a3" stroke-width="1.6"/>
<line x1="268.30" y1="511.70" x2="268.30" y2="537.80" stroke="#a3a3a3" stroke-width="1.6"/>
<line x1="262.00" y1="537.80" x2="274.60" y2="537.80" stroke="#a3a3a3" stroke-width="1.6"/>
<rect x="255.80" y="423.40" width="25.00" height="88.30" fill="none" stroke="#a3a3a3" stroke-width="1.6"/>
<line x1="73.50" y1="413.80" x2="98.90" y2="413.80" stroke="#000" stroke-width="2.3" stroke-linecap="round"/>
<line x1="135.00" y1="414.60" x2="159.80" y2="414.60" stroke="#000" stroke-width="2.3" stroke-linecap="round"/>
<line x1="195.50" y1="424.60" x2="220.10" y2="424.60" stroke="#000" stroke-width="2.3" stroke-linecap="round"/>
<line x1="255.80" y1="444.20" x2="280.80" y2="444.20" stroke="#000" stroke-width="2.3" stroke-linecap="round"/>
<circle cx="76.00" cy="401.00" r="2.65" fill="#f59aac" fill-opacity="0.6"/>
<circle cx="81.00" cy="401.00" r="2.65" fill="#f59aac" fill-opacity="0.6"/>
<circle cx="86.00" cy="401.00" r="2.65" fill="#f59aac" fill-opacity="0.6"/>
<circle cx="91.00" cy="401.00" r="2.65" fill="#f59aac" fill-opacity="0.6"/>
<circle cx="61.70" cy="413.00" r="2.65" fill="#f59aac" fill-opacity="0.6"/>
<circle cx="61.90" cy="412.50" r="2.65" fill="#f59aac" fill-opacity="0.6"/>
<circle cx="67.20" cy="411.60" r="2.65" fill="#f59aac" fill-opacity="0.6"/>
<circle cx="63.70" cy="416.00" r="2.65" fill="#f59aac" fill-opacity="0.6"/>
<circle cx="71.80" cy="414.30" r="2.65" fill="#f59aac" fill-opacity="0.6"/>
<circle cx="67.80" cy="420.00" r="2.65" fill="#f59aac" fill-opacity="0.6"/>
<circle cx="72.60" cy="419.50" r="2.65" fill="#f59aac" fill-opacity="0.6"/>
<circle cx="77.00" cy="417.30" r="2.65" fill="#f59aac" fill-opacity="0.6"/>
<circle cx="81.80" cy="416.90" r="2.65" fill="#f59aac" fill-opacity="0.6"/>
<circle cx="86.20" cy="412.00" r="2.65" fill="#f59aac" fill-opacity="0.6"/>
<circle cx="86.20" cy="411.50" r="2.65" fill="#f59aac" fill-opacity="0.6"/>
<circle cx="86.20" cy="418.20" r="2.65" fill="#f59aac" fill-opacity="0.6"/>
<circle cx="90.60" cy="416.90" r="2.65" fill="#f59aac" fill-opacity="0.6"/>
<circle cx="95.40" cy="413.80" r="2.65" fill="#f59aac" fill-opacity="0.6"/>
<circle cx="100.20" cy="414.70" r="2.65" fill="#f59aac" fill-opacity="0.6"/>
<circle cx="105.00" cy="414.30" r="2.65" fill="#f59aac" fill-opacity="0.6"/>
<circle cx="110.30" cy="412.10" r="2.65" fill="#f59aac" fill-opacity="0.6"/>
<circle cx="110.10" cy="412.60" r="2.65" fill="#f59aac" fill-opacity="0.6"/>
<circle cx="109.90" cy="416.90" r="2.65" fill="#f59aac" fill-opacity="0.6"/>
<circle cx="98.90" cy="420.40" r="2.65" fill="#f59aac" fill-opacity="0.6"/>
<circle cx="104.20" cy="420.00" r="2.65" fill="#f59aac" fill-opacity="0.6"/>
<circle cx="109.00" cy="419.10" r="2.65" fill="#f59aac" fill-opacity="0.6"/>
<circle cx="77.00" cy="423.00" r="2.65" fill="#f59aac" fill-opacity="0.6"/>
<circle cx="82.30" cy="423.50" r="2.65" fill="#f59aac" fill-opacity="0.6"/>
<circle cx="89.30" cy="423.50" r="2.65" fill="#f59aac" fill-opacity="0.6"/>
<circle cx="94.50" cy="423.00" r="2.65" fill="#f59aac" fill-opacity="0.6"/>
<circle cx="86.20" cy="427.00" r="2.65" fill="#f59aac" fill-opacity="0.6"/>
<circle cx="81.40" cy="430.50" r="2.65" fill="#f59aac" fill-opacity="0.6"/>
<circle cx="90.20" cy="430.50" r="2.65" fill="#f59aac" fill-opacity="0.6"/>
<circle cx="86.20" cy="433.50" r="2.65" fill="#f59aac" fill-opacity="0.6"/>
<circle cx="86.20" cy="453.00" r="2.65" fill="#f59aac" fill-opacity="0.6"/>
<circle cx="141.70" cy="400.80" r="2.65" fill="#9d80e2" fill-opacity="0.6"/>
<circle cx="146.60" cy="400.80" r="2.65" fill="#9d80e2" fill-opacity="0.6"/>
<circle cx="127.40" cy="412.60" r="2.65" fill="#9d80e2" fill-opacity="0.6"/>
<circle cx="132.50" cy="412.60" r="2.65" fill="#9d80e2" fill-opacity="0.6"/>
<circle cx="137.50" cy="414.00" r="2.65" fill="#9d80e2" fill-opacity="0.6"/>
<circle cx="142.00" cy="414.50" r="2.65" fill="#9d80e2" fill-opacity="0.6"/>
<circle cx="147.00" cy="414.00" r="2.65" fill="#9d80e2" fill-opacity="0.6"/>
<circle cx="152.00" cy="414.50" r="2.65" fill="#9d80e2" fill-opacity="0.6"/>
<circle cx="156.50" cy="414.00" r="2.65" fill="#9d80e2" fill-opacity="0.6"/>
<circle cx="161.50" cy="412.60" r="2.65" fill="#9d80e2" fill-opacity="0.6"/>
<circle cx="166.50" cy="412.60" r="2.65" fill="#9d80e2" fill-opacity="0.6"/>
<circle cx="171.00" cy="412.60" r="2.65" fill="#9d80e2" fill-opacity="0.6"/>
<circle cx="146.60" cy="418.10" r="2.65" fill="#9d80e2" fill-opacity="0.6"/>
<circle cx="146.60" cy="424.60" r="2.65" fill="#9d80e2" fill-opacity="0.6"/>
<circle cx="146.60" cy="437.20" r="2.65" fill="#9d80e2" fill-opacity="0.6"/>
<circle cx="146.60" cy="454.50" r="2.65" fill="#9d80e2" fill-opacity="0.6"/>
<circle cx="142.20" cy="489.60" r="2.65" fill="#9d80e2" fill-opacity="0.6"/>
<circle cx="146.60" cy="492.50" r="2.65" fill="#9d80e2" fill-opacity="0.6"/>
<circle cx="146.60" cy="533.60" r="2.65" fill="#9d80e2" fill-opacity="0.6"/>
<circle cx="198.60" cy="412.10" r="2.65" fill="#ecdc88" fill-opacity="0.6"/>
<circle cx="203.00" cy="413.50" r="2.65" fill="#ecdc88" fill-opacity="0.6"/>
<circle cx="207.00" cy="416.60" r="2.65" fill="#ecdc88" fill-opacity="0.6"/>
<circle cx="211.50" cy="412.90" r="2.65" fill="#ecdc88" fill-opacity="0.6"/>
<circle cx="203.50" cy="422.50" r="2.65" fill="#ecdc88" fill-opacity="0.6"/>
<circle cx="207.40" cy="428.00" r="2.65" fill="#ecdc88" fill-opacity="0.6"/>
<circle cx="207.40" cy="440.70" r="2.65" fill="#ecdc88" fill-opacity="0.6"/>
<circle cx="207.40" cy="475.50" r="2.65" fill="#ecdc88" fill-opacity="0.6"/>
<circle cx="207.60" cy="496.30" r="2.65" fill="#ecdc88" fill-opacity="0.6"/>
<circle cx="207.60" cy="527.00" r="2.65" fill="#ecdc88" fill-opacity="0.6"/>
<circle cx="207.60" cy="581.00" r="2.65" fill="#ecdc88" fill-opacity="0.6"/>
<circle cx="268.20" cy="400.90" r="2.65" fill="#6dceae" fill-opacity="0.6"/>
<circle cx="262.40" cy="419.70" r="2.65" fill="#6dceae" fill-opacity="0.6"/>
<circle cx="268.00" cy="423.00" r="2.65" fill="#6dceae" fill-opacity="0.6"/>
<circle cx="265.50" cy="426.50" r="2.65" fill="#6dceae" fill-opacity="0.6"/>
<circle cx="268.30" cy="429.30" r="2.65" fill="#6dceae" fill-opacity="0.6"/>
<circle cx="270.00" cy="421.00" r="2.65" fill="#6dceae" fill-opacity="0.6"/>
<circle cx="268.20" cy="460.10" r="2.65" fill="#6dceae" fill-opacity="0.6"/>
<circle cx="268.20" cy="497.40" r="2.65" fill="#6dceae" fill-opacity="0.6"/>
<circle cx="268.20" cy="516.80" r="2.65" fill="#6dceae" fill-opacity="0.6"/>
<circle cx="268.20" cy="527.40" r="2.65" fill="#6dceae" fill-opacity="0.6"/>
<circle cx="268.20" cy="537.80" r="2.65" fill="#6dceae" fill-opacity="0.6"/>
<text x="141.00" y="413.55" font-size="10.4" font-weight="bold" fill="#000" stroke="#000" stroke-width="0.35" text-anchor="middle">B</text>
<text x="213.90" y="417.05" font-size="10.4" font-weight="bold" fill="#000" stroke="#000" stroke-width="0.35" text-anchor="middle">B</text>
<text x="199.20" y="428.95" font-size="10.4" font-weight="bold" fill="#000" stroke="#000" stroke-width="0.35" text-anchor="middle">B</text>
<text x="263.00" y="404.45" font-size="10.4" font-weight="bold" fill="#000" stroke="#000" stroke-width="0.35" text-anchor="middle">B</text>
<text x="273.20" y="427.35" font-size="10.4" font-weight="bold" fill="#000" stroke="#000" stroke-width="0.35" text-anchor="middle">B</text>
<text x="273.80" y="542.85" font-size="10.4" font-weight="bold" fill="#000" stroke="#000" stroke-width="0.35" text-anchor="middle">B</text>
<text x="136.80" y="492.80" font-size="11.2" font-weight="bold" fill="#000" stroke="#000" stroke-width="0.35" text-anchor="middle">x</text>
<text x="151.00" y="538.90" font-size="11.2" font-weight="bold" fill="#000" stroke="#000" stroke-width="0.35" text-anchor="middle">x</text>
<text x="210.50" y="433.00" font-size="11.2" font-weight="bold" fill="#000" stroke="#000" stroke-width="0.35" text-anchor="middle">x</text>
<text x="203.70" y="479.80" font-size="11.2" font-weight="bold" fill="#000" stroke="#000" stroke-width="0.35" text-anchor="middle">x</text>
<text x="203.30" y="499.20" font-size="11.2" font-weight="bold" fill="#000" stroke="#000" stroke-width="0.35" text-anchor="middle">x</text>
<text x="203.30" y="529.90" font-size="11.2" font-weight="bold" fill="#000" stroke="#000" stroke-width="0.35" text-anchor="middle">x</text>
<text x="202.30" y="583.00" font-size="11.2" font-weight="bold" fill="#000" stroke="#000" stroke-width="0.35" text-anchor="middle">x</text>
<text x="263.00" y="500.90" font-size="11.2" font-weight="bold" fill="#000" stroke="#000" stroke-width="0.35" text-anchor="middle">x</text>
<text x="263.00" y="519.30" font-size="11.2" font-weight="bold" fill="#000" stroke="#000" stroke-width="0.35" text-anchor="middle">x</text>
<text x="263.00" y="527.90" font-size="11.2" font-weight="bold" fill="#000" stroke="#000" stroke-width="0.35" text-anchor="middle">x</text>
<text x="97.5" y="573.0" font-size="12.8" font-weight="bold" fill="#111" stroke="#111" stroke-width="0.25" textLength="53.4" lengthAdjust="spacingAndGlyphs">BF<tspan font-size="9.6" dy="2.8">10</tspan><tspan dy="-2.8">= 3.4</tspan></text>
<text x="160.0" y="573.0" font-size="12.8" font-weight="bold" fill="#111" stroke="#111" stroke-width="0.25" textLength="56.6" lengthAdjust="spacingAndGlyphs">BF<tspan font-size="9.6" dy="2.8">10</tspan><tspan dy="-2.8">= 211</tspan></text>
<text x="226.2" y="573.0" font-size="12.8" font-weight="bold" fill="#111" stroke="#111" stroke-width="0.25" textLength="72.1" lengthAdjust="spacingAndGlyphs">BF<tspan font-size="9.6" dy="2.8">10</tspan><tspan dy="-2.8">= 15806</tspan></text>
<rect x="370.40" y="392.30" width="253.40" height="197.30" fill="#fff" stroke="#e2e2e2" stroke-width="1.3"/>
<line x1="371.40" y1="397.50" x2="622.80" y2="397.50" stroke="#efefef" stroke-width="1.0"/>
<text x="367.30" y="403.40" font-size="16.5" fill="#2a2a2a" text-anchor="end" font-weight="normal">2</text>
<line x1="371.40" y1="422.40" x2="622.80" y2="422.40" stroke="#efefef" stroke-width="1.0"/>
<text x="367.30" y="428.30" font-size="16.5" fill="#2a2a2a" text-anchor="end" font-weight="normal">1</text>
<line x1="371.40" y1="447.30" x2="622.80" y2="447.30" stroke="#efefef" stroke-width="1.0"/>
<text x="367.30" y="453.20" font-size="16.5" fill="#2a2a2a" text-anchor="end" font-weight="normal">0</text>
<line x1="371.40" y1="472.20" x2="622.80" y2="472.20" stroke="#efefef" stroke-width="1.0"/>
<text x="367.30" y="478.10" font-size="16.5" fill="#2a2a2a" text-anchor="end" font-weight="normal">-1</text>
<line x1="371.40" y1="497.10" x2="622.80" y2="497.10" stroke="#efefef" stroke-width="1.0"/>
<text x="367.30" y="503.00" font-size="16.5" fill="#2a2a2a" text-anchor="end" font-weight="normal">-2</text>
<line x1="371.40" y1="522.00" x2="622.80" y2="522.00" stroke="#efefef" stroke-width="1.0"/>
<text x="367.30" y="527.90" font-size="16.5" fill="#2a2a2a" text-anchor="end" font-weight="normal">-3</text>
<line x1="371.40" y1="546.90" x2="622.80" y2="546.90" stroke="#efefef" stroke-width="1.0"/>
<text x="367.30" y="552.80" font-size="16.5" fill="#2a2a2a" text-anchor="end" font-weight="normal">-4</text>
<line x1="371.40" y1="571.80" x2="622.80" y2="571.80" stroke="#efefef" stroke-width="1.0"/>
<text x="367.30" y="577.70" font-size="16.5" fill="#2a2a2a" text-anchor="end" font-weight="normal">-5</text>
<text x="496.80" y="387.20" font-size="18.0" fill="#333" text-anchor="middle" font-weight="normal">Stroop</text>
<text x="345.20" y="491.90" font-size="18" fill="#333" text-anchor="middle" font-weight="normal" transform="rotate(-90 345.20 491.90)">Z-scores</text>
<text x="409.00" y="605.40" font-size="14.3" fill="#222" text-anchor="middle" font-weight="normal">Healthy</text>
<text x="409.00" y="622.35" font-size="14.3" fill="#222" text-anchor="middle" font-weight="normal">subjects</text>
<text x="466.80" y="605.40" font-size="14.3" fill="#222" text-anchor="middle" font-weight="normal">Intact</text>
<text x="466.80" y="622.35" font-size="14.3" fill="#222" text-anchor="middle" font-weight="normal">IA</text>
<text x="529.80" y="605.40" font-size="14.3" fill="#222" text-anchor="middle" font-weight="normal">Damaged</text>
<text x="529.80" y="622.35" font-size="14.3" fill="#222" text-anchor="middle" font-weight="normal">IA</text>
<text x="592.00" y="605.40" font-size="14.3" fill="#222" text-anchor="middle" font-weight="normal">Absent</text>
<text x="592.00" y="622.35" font-size="14.3" fill="#222" text-anchor="middle" font-weight="normal">IA</text>
<line x1="402.25" y1="401.00" x2="402.25" y2="425.60" stroke="#a3a3a3" stroke-width="1.6"/>
<line x1="395.80" y1="401.00" x2="408.70" y2="401.00" stroke="#a3a3a3" stroke-width="1.6"/>
<line x1="402.25" y1="453.50" x2="402.25" y2="487.80" stroke="#a3a3a3" stroke-width="1.6"/>
<line x1="395.80" y1="487.80" x2="408.70" y2="487.80" stroke="#a3a3a3" stroke-width="1.6"/>
<rect x="389.30" y="425.60" width="25.90" height="27.90" fill="none" stroke="#a3a3a3" stroke-width="1.6"/>
<line x1="465.50" y1="409.50" x2="465.50" y2="426.10" stroke="#a3a3a3" stroke-width="1.6"/>
<line x1="458.60" y1="409.50" x2="472.40" y2="409.50" stroke="#a3a3a3" stroke-width="1.6"/>
<line x1="465.50" y1="508.50" x2="465.50" y2="560.00" stroke="#a3a3a3" stroke-width="1.6"/>
<line x1="458.60" y1="560.00" x2="472.40" y2="560.00" stroke="#a3a3a3" stroke-width="1.6"/>
<rect x="452.60" y="426.10" width="25.80" height="82.40" fill="none" stroke="#a3a3a3" stroke-width="1.6"/>
<line x1="528.35" y1="413.60" x2="528.35" y2="431.00" stroke="#a3a3a3" stroke-width="1.6"/>
<line x1="521.70" y1="413.60" x2="535.00" y2="413.60" stroke="#a3a3a3" stroke-width="1.6"/>
<line x1="528.35" y1="480.20" x2="528.35" y2="526.80" stroke="#a3a3a3" stroke-width="1.6"/>
<line x1="521.70" y1="526.80" x2="535.00" y2="526.80" stroke="#a3a3a3" stroke-width="1.6"/>
<rect x="515.50" y="431.00" width="25.70" height="49.20" fill="none" stroke="#a3a3a3" stroke-width="1.6"/>
<line x1="592.15" y1="420.50" x2="592.15" y2="445.50" stroke="#a3a3a3" stroke-width="1.6"/>
<line x1="585.55" y1="420.50" x2="598.75" y2="420.50" stroke="#a3a3a3" stroke-width="1.6"/>
<line x1="592.15" y1="497.60" x2="592.15" y2="548.70" stroke="#a3a3a3" stroke-width="1.6"/>
<line x1="585.55" y1="548.70" x2="598.75" y2="548.70" stroke="#a3a3a3" stroke-width="1.6"/>
<rect x="578.90" y="445.50" width="26.50" height="52.10" fill="none" stroke="#a3a3a3" stroke-width="1.6"/>
<line x1="389.30" y1="436.40" x2="415.20" y2="436.40" stroke="#000" stroke-width="2.3" stroke-linecap="round"/>
<line x1="452.60" y1="455.20" x2="478.40" y2="455.20" stroke="#000" stroke-width="2.3" stroke-linecap="round"/>
<line x1="515.50" y1="440.80" x2="541.20" y2="440.80" stroke="#000" stroke-width="2.3" stroke-linecap="round"/>
<line x1="578.90" y1="465.50" x2="605.40" y2="465.50" stroke="#000" stroke-width="2.3" stroke-linecap="round"/>
<circle cx="402.12" cy="400.47" r="2.65" fill="#f59aac" fill-opacity="0.6"/>
<circle cx="402.12" cy="407.58" r="2.65" fill="#f59aac" fill-opacity="0.6"/>
<circle cx="396.87" cy="411.95" r="2.65" fill="#f59aac" fill-opacity="0.6"/>
<circle cx="401.79" cy="413.04" r="2.65" fill="#f59aac" fill-opacity="0.6"/>
<circle cx="406.93" cy="411.40" r="2.65" fill="#f59aac" fill-opacity="0.6"/>
<circle cx="412.40" cy="411.18" r="2.65" fill="#f59aac" fill-opacity="0.6"/>
<circle cx="392.50" cy="420.70" r="2.65" fill="#f59aac" fill-opacity="0.6"/>
<circle cx="397.96" cy="420.70" r="2.65" fill="#f59aac" fill-opacity="0.6"/>
<circle cx="406.16" cy="420.70" r="2.65" fill="#f59aac" fill-opacity="0.6"/>
<circle cx="411.63" cy="419.93" r="2.65" fill="#f59aac" fill-opacity="0.6"/>
<circle cx="401.79" cy="423.98" r="2.65" fill="#f59aac" fill-opacity="0.6"/>
<circle cx="388.12" cy="427.26" r="2.65" fill="#f59aac" fill-opacity="0.6"/>
<circle cx="393.04" cy="429.45" r="2.65" fill="#f59aac" fill-opacity="0.6"/>
<circle cx="397.96" cy="432.18" r="2.65" fill="#f59aac" fill-opacity="0.6"/>
<circle cx="402.88" cy="430.21" r="2.65" fill="#f59aac" fill-opacity="0.6"/>
<circle cx="408.90" cy="429.99" r="2.65" fill="#f59aac" fill-opacity="0.6"/>
<circle cx="413.82" cy="427.80" r="2.65" fill="#f59aac" fill-opacity="0.6"/>
<circle cx="386.48" cy="434.15" r="2.65" fill="#f59aac" fill-opacity="0.6"/>
<circle cx="406.16" cy="433.82" r="2.65" fill="#f59aac" fill-opacity="0.6"/>
<circle cx="419.61" cy="433.82" r="2.65" fill="#f59aac" fill-opacity="0.6"/>
<circle cx="391.40" cy="437.10" r="2.65" fill="#f59aac" fill-opacity="0.6"/>
<circle cx="396.32" cy="439.29" r="2.65" fill="#f59aac" fill-opacity="0.6"/>
<circle cx="401.24" cy="437.10" r="2.65" fill="#f59aac" fill-opacity="0.6"/>
<circle cx="405.07" cy="439.83" r="2.65" fill="#f59aac" fill-opacity="0.6"/>
<circle cx="409.99" cy="438.74" r="2.65" fill="#f59aac" fill-opacity="0.6"/>
<circle cx="415.46" cy="437.10" r="2.65" fill="#f59aac" fill-opacity="0.6"/>
<circle cx="400.15" cy="442.57" r="2.65" fill="#f59aac" fill-opacity="0.6"/>
<circle cx="393.04" cy="446.94" r="2.65" fill="#f59aac" fill-opacity="0.6"/>
<circle cx="396.87" cy="450.55" r="2.65" fill="#f59aac" fill-opacity="0.6"/>
<circle cx="401.79" cy="448.03" r="2.65" fill="#f59aac" fill-opacity="0.6"/>
<circle cx="407.26" cy="446.94" r="2.65" fill="#f59aac" fill-opacity="0.6"/>
<circle cx="400.70" cy="454.60" r="2.65" fill="#f59aac" fill-opacity="0.6"/>
<circle cx="406.16" cy="454.05" r="2.65" fill="#f59aac" fill-opacity="0.6"/>
<circle cx="396.87" cy="459.30" r="2.65" fill="#f59aac" fill-opacity="0.6"/>
<circle cx="402.12" cy="459.52" r="2.65" fill="#f59aac" fill-opacity="0.6"/>
<circle cx="396.87" cy="467.72" r="2.65" fill="#f59aac" fill-opacity="0.6"/>
<circle cx="402.12" cy="469.36" r="2.65" fill="#f59aac" fill-opacity="0.6"/>
<circle cx="406.16" cy="473.18" r="2.65" fill="#f59aac" fill-opacity="0.6"/>
<circle cx="396.87" cy="475.92" r="2.65" fill="#f59aac" fill-opacity="0.6"/>
<circle cx="402.12" cy="476.47" r="2.65" fill="#f59aac" fill-opacity="0.6"/>
<circle cx="399.93" cy="482.48" r="2.65" fill="#f59aac" fill-opacity="0.6"/>
<circle cx="402.12" cy="487.95" r="2.65" fill="#f59aac" fill-opacity="0.6"/>
<circle cx="462.75" cy="408.86" r="2.65" fill="#9d80e2" fill-opacity="0.6"/>
<circle cx="466.07" cy="408.86" r="2.65" fill="#9d80e2" fill-opacity="0.6"/>
<circle cx="465.52" cy="415.52" r="2.65" fill="#9d80e2" fill-opacity="0.6"/>
<circle cx="460.80" cy="423.84" r="2.65" fill="#9d80e2" fill-opacity="0.6"/>
<circle cx="466.35" cy="424.67" r="2.65" fill="#9d80e2" fill-opacity="0.6"/>
<circle cx="464.41" cy="430.22" r="2.65" fill="#9d80e2" fill-opacity="0.6"/>
<circle cx="465.52" cy="434.38" r="2.65" fill="#9d80e2" fill-opacity="0.6"/>
<circle cx="459.97" cy="446.87" r="2.65" fill="#9d80e2" fill-opacity="0.6"/>
<circle cx="465.52" cy="448.81" r="2.65" fill="#9d80e2" fill-opacity="0.6"/>
<circle cx="465.52" cy="462.12" r="2.65" fill="#9d80e2" fill-opacity="0.6"/>
<circle cx="465.52" cy="468.50" r="2.65" fill="#9d80e2" fill-opacity="0.6"/>
<circle cx="465.52" cy="477.38" r="2.65" fill="#9d80e2" fill-opacity="0.6"/>
<circle cx="465.52" cy="501.51" r="2.65" fill="#9d80e2" fill-opacity="0.6"/>
<circle cx="462.75" cy="509.83" r="2.65" fill="#9d80e2" fill-opacity="0.6"/>
<circle cx="465.52" cy="514.83" r="2.65" fill="#9d80e2" fill-opacity="0.6"/>
<circle cx="465.52" cy="525.09" r="2.65" fill="#9d80e2" fill-opacity="0.6"/>
<circle cx="465.52" cy="547.28" r="2.65" fill="#9d80e2" fill-opacity="0.6"/>
<circle cx="465.52" cy="559.76" r="2.65" fill="#9d80e2" fill-opacity="0.6"/>
<circle cx="528.21" cy="413.02" r="2.65" fill="#ecdc88" fill-opacity="0.6"/>
<circle cx="522.66" cy="426.62" r="2.65" fill="#ecdc88" fill-opacity="0.6"/>
<circle cx="528.77" cy="426.06" r="2.65" fill="#ecdc88" fill-opacity="0.6"/>
<circle cx="528.21" cy="433.83" r="2.65" fill="#ecdc88" fill-opacity="0.6"/>
<circle cx="528.21" cy="445.48" r="2.65" fill="#ecdc88" fill-opacity="0.6"/>
<circle cx="529.32" cy="455.46" r="2.65" fill="#ecdc88" fill-opacity="0.6"/>
<circle cx="526.55" cy="478.77" r="2.65" fill="#ecdc88" fill-opacity="0.6"/>
<circle cx="528.77" cy="484.31" r="2.65" fill="#ecdc88" fill-opacity="0.6"/>
<circle cx="528.21" cy="494.85" r="2.65" fill="#ecdc88" fill-opacity="0.6"/>
<circle cx="528.21" cy="526.48" r="2.65" fill="#ecdc88" fill-opacity="0.6"/>
<circle cx="592.01" cy="420.51" r="2.65" fill="#6dceae" fill-opacity="0.6"/>
<circle cx="592.01" cy="427.45" r="2.65" fill="#6dceae" fill-opacity="0.6"/>
<circle cx="592.01" cy="442.70" r="2.65" fill="#6dceae" fill-opacity="0.6"/>
<circle cx="588.40" cy="452.41" r="2.65" fill="#6dceae" fill-opacity="0.6"/>
<circle cx="592.01" cy="455.74" r="2.65" fill="#6dceae" fill-opacity="0.6"/>
<circle cx="592.01" cy="475.44" r="2.65" fill="#6dceae" fill-opacity="0.6"/>
<circle cx="592.01" cy="489.31" r="2.65" fill="#6dceae" fill-opacity="0.6"/>
<circle cx="592.01" cy="500.40" r="2.65" fill="#6dceae" fill-opacity="0.6"/>
<circle cx="592.01" cy="548.67" r="2.65" fill="#6dceae" fill-opacity="0.6"/>
<circle cx="591.18" cy="580.85" r="2.65" fill="#6dceae" fill-opacity="0.6"/>
<text x="454.40" y="412.95" font-size="10.4" font-weight="bold" fill="#000" stroke="#000" stroke-width="0.35" text-anchor="middle">B</text>
<text x="524.60" y="450.95" font-size="10.4" font-weight="bold" fill="#000" stroke="#000" stroke-width="0.35" text-anchor="middle">B</text>
<text x="531.50" y="499.75" font-size="10.4" font-weight="bold" fill="#000" stroke="#000" stroke-width="0.35" text-anchor="middle">B</text>
<text x="587.00" y="424.05" font-size="10.4" font-weight="bold" fill="#000" stroke="#000" stroke-width="0.35" text-anchor="middle">B</text>
<text x="597.60" y="478.95" font-size="10.4" font-weight="bold" fill="#000" stroke="#000" stroke-width="0.35" text-anchor="middle">B</text>
<text x="584.80" y="552.25" font-size="10.4" font-weight="bold" fill="#000" stroke="#000" stroke-width="0.35" text-anchor="middle">B</text>
<text x="470.00" y="427.60" font-size="11.2" font-weight="bold" fill="#000" stroke="#000" stroke-width="0.35" text-anchor="middle">x</text>
<text x="460.80" y="505.20" font-size="11.2" font-weight="bold" fill="#000" stroke="#000" stroke-width="0.35" text-anchor="middle">x</text>
<text x="519.00" y="435.30" font-size="11.2" font-weight="bold" fill="#000" stroke="#000" stroke-width="0.35" text-anchor="middle">x</text>
<text x="534.90" y="435.30" font-size="11.2" font-weight="bold" fill="#000" stroke="#000" stroke-width="0.35" text-anchor="middle">x</text>
<text x="532.90" y="459.50" font-size="11.2" font-weight="bold" fill="#000" stroke="#000" stroke-width="0.35" text-anchor="middle">x</text>
<text x="531.00" y="487.20" font-size="11.2" font-weight="bold" fill="#000" stroke="#000" stroke-width="0.35" text-anchor="middle">x</text>
<text x="531.50" y="530.20" font-size="11.2" font-weight="bold" fill="#000" stroke="#000" stroke-width="0.35" text-anchor="middle">x</text>
<text x="596.70" y="445.60" font-size="11.2" font-weight="bold" fill="#000" stroke="#000" stroke-width="0.35" text-anchor="middle">x</text>
<text x="596.00" y="503.90" font-size="11.2" font-weight="bold" fill="#000" stroke="#000" stroke-width="0.35" text-anchor="middle">x</text>
<text x="596.70" y="585.10" font-size="11.2" font-weight="bold" fill="#000" stroke="#000" stroke-width="0.35" text-anchor="middle">x</text>
<text x="442.2" y="575.5" font-size="12.8" font-weight="bold" fill="#111" stroke="#111" stroke-width="0.25" textLength="49.1" lengthAdjust="spacingAndGlyphs">BF<tspan font-size="9.6" dy="2.8">10</tspan><tspan dy="-2.8">= 11</tspan></text>
<text x="509.3" y="575.5" font-size="12.8" font-weight="bold" fill="#111" stroke="#111" stroke-width="0.25" textLength="41.7" lengthAdjust="spacingAndGlyphs">BF<tspan font-size="9.6" dy="2.8">10</tspan><tspan dy="-2.8">= 1</tspan></text>
<text x="567.0" y="575.5" font-size="12.8" font-weight="bold" fill="#111" stroke="#111" stroke-width="0.25" textLength="49.1" lengthAdjust="spacingAndGlyphs">BF<tspan font-size="9.6" dy="2.8">10</tspan><tspan dy="-2.8">= 65</tspan></text>
<rect x="53.60" y="672.60" width="245.70" height="197.00" fill="#fff" stroke="#e2e2e2" stroke-width="1.3"/>
<line x1="54.60" y1="677.00" x2="298.30" y2="677.00" stroke="#efefef" stroke-width="1.0"/>
<text x="48.60" y="682.90" font-size="16.5" fill="#2a2a2a" text-anchor="end" font-weight="normal">5</text>
<line x1="54.60" y1="700.00" x2="298.30" y2="700.00" stroke="#efefef" stroke-width="1.0"/>
<text x="48.60" y="705.90" font-size="16.5" fill="#2a2a2a" text-anchor="end" font-weight="normal">4</text>
<line x1="54.60" y1="723.00" x2="298.30" y2="723.00" stroke="#efefef" stroke-width="1.0"/>
<text x="48.60" y="728.90" font-size="16.5" fill="#2a2a2a" text-anchor="end" font-weight="normal">3</text>
<line x1="54.60" y1="746.00" x2="298.30" y2="746.00" stroke="#efefef" stroke-width="1.0"/>
<text x="48.60" y="751.90" font-size="16.5" fill="#2a2a2a" text-anchor="end" font-weight="normal">2</text>
<line x1="54.60" y1="769.00" x2="298.30" y2="769.00" stroke="#efefef" stroke-width="1.0"/>
<text x="48.60" y="774.90" font-size="16.5" fill="#2a2a2a" text-anchor="end" font-weight="normal">1</text>
<line x1="54.60" y1="792.00" x2="298.30" y2="792.00" stroke="#efefef" stroke-width="1.0"/>
<text x="48.60" y="797.90" font-size="16.5" fill="#2a2a2a" text-anchor="end" font-weight="normal">0</text>
<line x1="54.60" y1="815.00" x2="298.30" y2="815.00" stroke="#efefef" stroke-width="1.0"/>
<text x="48.60" y="820.90" font-size="16.5" fill="#2a2a2a" text-anchor="end" font-weight="normal">-1</text>
<line x1="54.60" y1="838.00" x2="298.30" y2="838.00" stroke="#efefef" stroke-width="1.0"/>
<text x="48.60" y="843.90" font-size="16.5" fill="#2a2a2a" text-anchor="end" font-weight="normal">-2</text>
<line x1="54.60" y1="861.00" x2="298.30" y2="861.00" stroke="#efefef" stroke-width="1.0"/>
<text x="48.60" y="866.90" font-size="16.5" fill="#2a2a2a" text-anchor="end" font-weight="normal">-3</text>
<text x="176.40" y="667.70" font-size="18.4" fill="#333" text-anchor="middle" font-weight="normal">Semantic fluency</text>
<text x="27.30" y="771.90" font-size="18" fill="#333" text-anchor="middle" font-weight="normal" transform="rotate(-90 27.30 771.90)">Z-scores</text>
<text x="87.20" y="887.30" font-size="14.3" fill="#222" text-anchor="middle" font-weight="normal">Healthy</text>
<text x="87.20" y="904.25" font-size="14.3" fill="#222" text-anchor="middle" font-weight="normal">subjects</text>
<text x="145.40" y="887.30" font-size="14.3" fill="#222" text-anchor="middle" font-weight="normal">Intact</text>
<text x="145.40" y="904.25" font-size="14.3" fill="#222" text-anchor="middle" font-weight="normal">IA</text>
<text x="207.80" y="887.30" font-size="14.3" fill="#222" text-anchor="middle" font-weight="normal">Damaged</text>
<text x="207.80" y="904.25" font-size="14.3" fill="#222" text-anchor="middle" font-weight="normal">IA</text>
<text x="270.00" y="887.30" font-size="14.3" fill="#222" text-anchor="middle" font-weight="normal">Absent</text>
<text x="270.00" y="904.25" font-size="14.3" fill="#222" text-anchor="middle" font-weight="normal">IA</text>
<line x1="84.20" y1="718.30" x2="84.20" y2="754.20" stroke="#a3a3a3" stroke-width="1.6"/>
<line x1="77.65" y1="718.30" x2="90.75" y2="718.30" stroke="#a3a3a3" stroke-width="1.6"/>
<line x1="84.20" y1="782.60" x2="84.20" y2="823.90" stroke="#a3a3a3" stroke-width="1.6"/>
<line x1="77.65" y1="823.90" x2="90.75" y2="823.90" stroke="#a3a3a3" stroke-width="1.6"/>
<rect x="71.50" y="754.20" width="25.40" height="28.40" fill="none" stroke="#a3a3a3" stroke-width="1.6"/>
<line x1="145.65" y1="733.90" x2="145.65" y2="776.20" stroke="#a3a3a3" stroke-width="1.6"/>
<line x1="139.10" y1="733.90" x2="152.20" y2="733.90" stroke="#a3a3a3" stroke-width="1.6"/>
<line x1="145.65" y1="816.00" x2="145.65" y2="857.50" stroke="#a3a3a3" stroke-width="1.6"/>
<line x1="139.10" y1="857.50" x2="152.20" y2="857.50" stroke="#a3a3a3" stroke-width="1.6"/>
<rect x="133.00" y="776.20" width="25.30" height="39.80" fill="none" stroke="#a3a3a3" stroke-width="1.6"/>
<line x1="206.85" y1="762.80" x2="206.85" y2="784.30" stroke="#a3a3a3" stroke-width="1.6"/>
<line x1="200.25" y1="762.80" x2="213.45" y2="762.80" stroke="#a3a3a3" stroke-width="1.6"/>
<line x1="206.85" y1="813.50" x2="206.85" y2="837.60" stroke="#a3a3a3" stroke-width="1.6"/>
<line x1="200.25" y1="837.60" x2="213.45" y2="837.60" stroke="#a3a3a3" stroke-width="1.6"/>
<rect x="194.10" y="784.30" width="25.50" height="29.20" fill="none" stroke="#a3a3a3" stroke-width="1.6"/>
<line x1="268.20" y1="755.10" x2="268.20" y2="774.10" stroke="#a3a3a3" stroke-width="1.6"/>
<line x1="262.25" y1="755.10" x2="274.15" y2="755.10" stroke="#a3a3a3" stroke-width="1.6"/>
<line x1="268.20" y1="822.70" x2="268.20" y2="837.60" stroke="#a3a3a3" stroke-width="1.6"/>
<line x1="262.25" y1="837.60" x2="274.15" y2="837.60" stroke="#a3a3a3" stroke-width="1.6"/>
<rect x="255.80" y="774.10" width="24.80" height="48.60" fill="none" stroke="#a3a3a3" stroke-width="1.6"/>
<line x1="71.50" y1="771.50" x2="96.90" y2="771.50" stroke="#000" stroke-width="2.3" stroke-linecap="round"/>
<line x1="133.00" y1="801.80" x2="158.30" y2="801.80" stroke="#000" stroke-width="2.3" stroke-linecap="round"/>
<line x1="194.10" y1="795.70" x2="219.60" y2="795.70" stroke="#000" stroke-width="2.3" stroke-linecap="round"/>
<line x1="255.80" y1="798.20" x2="280.60" y2="798.20" stroke="#000" stroke-width="2.3" stroke-linecap="round"/>
<circle cx="84.00" cy="681.10" r="2.65" fill="#f59aac" fill-opacity="0.6"/>
<circle cx="84.00" cy="691.40" r="2.65" fill="#f59aac" fill-opacity="0.6"/>
<circle cx="84.00" cy="718.30" r="2.65" fill="#f59aac" fill-opacity="0.6"/>
<circle cx="84.00" cy="860.70" r="2.65" fill="#f59aac" fill-opacity="0.6"/>
<circle cx="79.65" cy="738.52" r="2.65" fill="#f59aac" fill-opacity="0.6"/>
<circle cx="84.02" cy="741.46" r="2.65" fill="#f59aac" fill-opacity="0.6"/>
<circle cx="74.19" cy="745.28" r="2.65" fill="#f59aac" fill-opacity="0.6"/>
<circle cx="79.10" cy="747.25" r="2.65" fill="#f59aac" fill-opacity="0.6"/>
<circle cx="84.02" cy="749.10" r="2.65" fill="#f59aac" fill-opacity="0.6"/>
<circle cx="88.93" cy="748.78" r="2.65" fill="#f59aac" fill-opacity="0.6"/>
<circle cx="93.84" cy="746.38" r="2.65" fill="#f59aac" fill-opacity="0.6"/>
<circle cx="78.01" cy="752.93" r="2.65" fill="#f59aac" fill-opacity="0.6"/>
<circle cx="86.20" cy="754.24" r="2.65" fill="#f59aac" fill-opacity="0.6"/>
<circle cx="75.28" cy="758.93" r="2.65" fill="#f59aac" fill-opacity="0.6"/>
<circle cx="81.83" cy="757.29" r="2.65" fill="#f59aac" fill-opacity="0.6"/>
<circle cx="86.20" cy="760.02" r="2.65" fill="#f59aac" fill-opacity="0.6"/>
<circle cx="91.11" cy="758.93" r="2.65" fill="#f59aac" fill-opacity="0.6"/>
<circle cx="96.03" cy="756.75" r="2.65" fill="#f59aac" fill-opacity="0.6"/>
<circle cx="79.65" cy="762.21" r="2.65" fill="#f59aac" fill-opacity="0.6"/>
<circle cx="84.02" cy="765.15" r="2.65" fill="#f59aac" fill-opacity="0.6"/>
<circle cx="79.65" cy="769.85" r="2.65" fill="#f59aac" fill-opacity="0.6"/>
<circle cx="87.84" cy="768.76" r="2.65" fill="#f59aac" fill-opacity="0.6"/>
<circle cx="64.37" cy="775.63" r="2.65" fill="#f59aac" fill-opacity="0.6"/>
<circle cx="68.73" cy="778.03" r="2.65" fill="#f59aac" fill-opacity="0.6"/>
<circle cx="74.19" cy="779.34" r="2.65" fill="#f59aac" fill-opacity="0.6"/>
<circle cx="79.10" cy="776.94" r="2.65" fill="#f59aac" fill-opacity="0.6"/>
<circle cx="84.02" cy="778.03" r="2.65" fill="#f59aac" fill-opacity="0.6"/>
<circle cx="88.93" cy="775.85" r="2.65" fill="#f59aac" fill-opacity="0.6"/>
<circle cx="94.39" cy="778.03" r="2.65" fill="#f59aac" fill-opacity="0.6"/>
<circle cx="99.30" cy="776.94" r="2.65" fill="#f59aac" fill-opacity="0.6"/>
<circle cx="78.01" cy="782.40" r="2.65" fill="#f59aac" fill-opacity="0.6"/>
<circle cx="83.47" cy="784.04" r="2.65" fill="#f59aac" fill-opacity="0.6"/>
<circle cx="87.84" cy="786.22" r="2.65" fill="#f59aac" fill-opacity="0.6"/>
<circle cx="79.10" cy="788.95" r="2.65" fill="#f59aac" fill-opacity="0.6"/>
<circle cx="84.02" cy="789.50" r="2.65" fill="#f59aac" fill-opacity="0.6"/>
<circle cx="87.29" cy="796.59" r="2.65" fill="#f59aac" fill-opacity="0.6"/>
<circle cx="79.10" cy="799.32" r="2.65" fill="#f59aac" fill-opacity="0.6"/>
<circle cx="84.02" cy="800.96" r="2.65" fill="#f59aac" fill-opacity="0.6"/>
<circle cx="84.02" cy="808.06" r="2.65" fill="#f59aac" fill-opacity="0.6"/>
<circle cx="84.02" cy="823.67" r="2.65" fill="#f59aac" fill-opacity="0.6"/>
<circle cx="145.64" cy="733.87" r="2.65" fill="#9d80e2" fill-opacity="0.6"/>
<circle cx="141.82" cy="755.58" r="2.65" fill="#9d80e2" fill-opacity="0.6"/>
<circle cx="145.64" cy="759.40" r="2.65" fill="#9d80e2" fill-opacity="0.6"/>
<circle cx="150.69" cy="758.94" r="2.65" fill="#9d80e2" fill-opacity="0.6"/>
<circle cx="141.06" cy="775.15" r="2.65" fill="#9d80e2" fill-opacity="0.6"/>
<circle cx="145.64" cy="778.21" r="2.65" fill="#9d80e2" fill-opacity="0.6"/>
<circle cx="145.64" cy="786.93" r="2.65" fill="#9d80e2" fill-opacity="0.6"/>
<circle cx="141.06" cy="795.34" r="2.65" fill="#9d80e2" fill-opacity="0.6"/>
<circle cx="145.64" cy="798.09" r="2.65" fill="#9d80e2" fill-opacity="0.6"/>
<circle cx="145.64" cy="806.80" r="2.65" fill="#9d80e2" fill-opacity="0.6"/>
<circle cx="149.46" cy="806.35" r="2.65" fill="#9d80e2" fill-opacity="0.6"/>
<circle cx="141.51" cy="812.46" r="2.65" fill="#9d80e2" fill-opacity="0.6"/>
<circle cx="145.64" cy="815.52" r="2.65" fill="#9d80e2" fill-opacity="0.6"/>
<circle cx="149.46" cy="812.46" r="2.65" fill="#9d80e2" fill-opacity="0.6"/>
<circle cx="141.51" cy="822.86" r="2.65" fill="#9d80e2" fill-opacity="0.6"/>
<circle cx="145.64" cy="825.92" r="2.65" fill="#9d80e2" fill-opacity="0.6"/>
<circle cx="145.64" cy="833.26" r="2.65" fill="#9d80e2" fill-opacity="0.6"/>
<circle cx="145.64" cy="856.80" r="2.65" fill="#9d80e2" fill-opacity="0.6"/>
<circle cx="206.90" cy="762.41" r="2.65" fill="#ecdc88" fill-opacity="0.6"/>
<circle cx="201.35" cy="782.85" r="2.65" fill="#ecdc88" fill-opacity="0.6"/>
<circle cx="206.90" cy="783.87" r="2.65" fill="#ecdc88" fill-opacity="0.6"/>
<circle cx="211.28" cy="780.66" r="2.65" fill="#ecdc88" fill-opacity="0.6"/>
<circle cx="202.52" cy="793.80" r="2.65" fill="#ecdc88" fill-opacity="0.6"/>
<circle cx="208.65" cy="792.04" r="2.65" fill="#ecdc88" fill-opacity="0.6"/>
<circle cx="206.90" cy="797.01" r="2.65" fill="#ecdc88" fill-opacity="0.6"/>
<circle cx="206.17" cy="809.12" r="2.65" fill="#ecdc88" fill-opacity="0.6"/>
<circle cx="202.52" cy="812.04" r="2.65" fill="#ecdc88" fill-opacity="0.6"/>
<circle cx="206.90" cy="814.96" r="2.65" fill="#ecdc88" fill-opacity="0.6"/>
<circle cx="206.17" cy="822.99" r="2.65" fill="#ecdc88" fill-opacity="0.6"/>
<circle cx="206.17" cy="837.30" r="2.65" fill="#ecdc88" fill-opacity="0.6"/>
<circle cx="267.92" cy="754.38" r="2.65" fill="#6dceae" fill-opacity="0.6"/>
<circle cx="267.92" cy="762.41" r="2.65" fill="#6dceae" fill-opacity="0.6"/>
<circle cx="267.92" cy="768.98" r="2.65" fill="#6dceae" fill-opacity="0.6"/>
<circle cx="266.46" cy="787.23" r="2.65" fill="#6dceae" fill-opacity="0.6"/>
<circle cx="267.92" cy="792.34" r="2.65" fill="#6dceae" fill-opacity="0.6"/>
<circle cx="267.92" cy="804.74" r="2.65" fill="#6dceae" fill-opacity="0.6"/>
<circle cx="263.83" cy="819.78" r="2.65" fill="#6dceae" fill-opacity="0.6"/>
<circle cx="267.92" cy="823.72" r="2.65" fill="#6dceae" fill-opacity="0.6"/>
<circle cx="263.83" cy="833.94" r="2.65" fill="#6dceae" fill-opacity="0.6"/>
<circle cx="267.92" cy="837.59" r="2.65" fill="#6dceae" fill-opacity="0.6"/>
<text x="149.20" y="830.65" font-size="10.4" font-weight="bold" fill="#000" stroke="#000" stroke-width="0.35" text-anchor="middle">B</text>
<text x="213.47" y="794.72" font-size="10.4" font-weight="bold" fill="#000" stroke="#000" stroke-width="0.35" text-anchor="middle">B</text>
<text x="194.05" y="822.89" font-size="10.4" font-weight="bold" fill="#000" stroke="#000" stroke-width="0.35" text-anchor="middle">B</text>
<text x="260.91" y="788.59" font-size="10.4" font-weight="bold" fill="#000" stroke="#000" stroke-width="0.35" text-anchor="middle">B</text>
<text x="273.32" y="795.89" font-size="10.4" font-weight="bold" fill="#000" stroke="#000" stroke-width="0.35" text-anchor="middle">B</text>
<text x="259.16" y="821.43" font-size="10.4" font-weight="bold" fill="#000" stroke="#000" stroke-width="0.35" text-anchor="middle">B</text>
<text x="153.70" y="811.20" font-size="11.2" font-weight="bold" fill="#000" stroke="#000" stroke-width="0.35" text-anchor="middle">x</text>
<text x="141.50" y="859.10" font-size="11.2" font-weight="bold" fill="#000" stroke="#000" stroke-width="0.35" text-anchor="middle">x</text>
<text x="197.85" y="795.53" font-size="11.2" font-weight="bold" fill="#000" stroke="#000" stroke-width="0.35" text-anchor="middle">x</text>
<text x="202.23" y="812.46" font-size="11.2" font-weight="bold" fill="#000" stroke="#000" stroke-width="0.35" text-anchor="middle">x</text>
<text x="211.57" y="819.76" font-size="11.2" font-weight="bold" fill="#000" stroke="#000" stroke-width="0.35" text-anchor="middle">x</text>
<text x="209.53" y="828.52" font-size="11.2" font-weight="bold" fill="#000" stroke="#000" stroke-width="0.35" text-anchor="middle">x</text>
<text x="209.53" y="841.22" font-size="11.2" font-weight="bold" fill="#000" stroke="#000" stroke-width="0.35" text-anchor="middle">x</text>
<text x="272.59" y="827.06" font-size="11.2" font-weight="bold" fill="#000" stroke="#000" stroke-width="0.35" text-anchor="middle">x</text>
<text x="259.45" y="837.28" font-size="11.2" font-weight="bold" fill="#000" stroke="#000" stroke-width="0.35" text-anchor="middle">x</text>
<text x="271.42" y="841.66" font-size="11.2" font-weight="bold" fill="#000" stroke="#000" stroke-width="0.35" text-anchor="middle">x</text>
<text x="121.9" y="868.6" font-size="12.8" font-weight="bold" fill="#111" stroke="#111" stroke-width="0.25" textLength="48.7" lengthAdjust="spacingAndGlyphs">BF<tspan font-size="9.6" dy="2.8">10</tspan><tspan dy="-2.8">= 17</tspan></text>
<text x="182.1" y="868.6" font-size="12.8" font-weight="bold" fill="#111" stroke="#111" stroke-width="0.25" textLength="48.7" lengthAdjust="spacingAndGlyphs">BF<tspan font-size="9.6" dy="2.8">10</tspan><tspan dy="-2.8">= 17</tspan></text>
<text x="248.0" y="868.6" font-size="12.8" font-weight="bold" fill="#111" stroke="#111" stroke-width="0.25" textLength="41.5" lengthAdjust="spacingAndGlyphs">BF<tspan font-size="9.6" dy="2.8">10</tspan><tspan dy="-2.8">= 6</tspan></text>
<rect x="372.20" y="672.70" width="251.80" height="196.90" fill="#fff" stroke="#e2e2e2" stroke-width="1.3"/>
<line x1="373.20" y1="674.90" x2="623.00" y2="674.90" stroke="#efefef" stroke-width="1.0"/>
<text x="367.30" y="680.80" font-size="16.5" fill="#2a2a2a" text-anchor="end" font-weight="normal">2</text>
<line x1="373.20" y1="711.90" x2="623.00" y2="711.90" stroke="#efefef" stroke-width="1.0"/>
<text x="367.30" y="717.80" font-size="16.5" fill="#2a2a2a" text-anchor="end" font-weight="normal">0</text>
<line x1="373.20" y1="748.90" x2="623.00" y2="748.90" stroke="#efefef" stroke-width="1.0"/>
<text x="367.30" y="754.80" font-size="16.5" fill="#2a2a2a" text-anchor="end" font-weight="normal">-2</text>
<line x1="373.20" y1="785.90" x2="623.00" y2="785.90" stroke="#efefef" stroke-width="1.0"/>
<text x="367.30" y="791.80" font-size="16.5" fill="#2a2a2a" text-anchor="end" font-weight="normal">-4</text>
<line x1="373.20" y1="822.90" x2="623.00" y2="822.90" stroke="#efefef" stroke-width="1.0"/>
<text x="367.30" y="828.80" font-size="16.5" fill="#2a2a2a" text-anchor="end" font-weight="normal">-6</text>
<line x1="373.20" y1="859.90" x2="623.00" y2="859.90" stroke="#efefef" stroke-width="1.0"/>
<text x="367.30" y="865.80" font-size="16.5" fill="#2a2a2a" text-anchor="end" font-weight="normal">-8</text>
<text x="497.40" y="667.80" font-size="18.4" fill="#333" text-anchor="middle" font-weight="normal">Confrontation naming</text>
<text x="346.90" y="771.70" font-size="18" fill="#333" text-anchor="middle" font-weight="normal" transform="rotate(-90 346.90 771.70)">Z-scores</text>
<text x="409.00" y="884.20" font-size="14.3" fill="#222" text-anchor="middle" font-weight="normal">Healthy</text>
<text x="409.00" y="901.15" font-size="14.3" fill="#222" text-anchor="middle" font-weight="normal">subjects</text>
<text x="467.20" y="884.20" font-size="14.3" fill="#222" text-anchor="middle" font-weight="normal">Intact</text>
<text x="467.20" y="901.15" font-size="14.3" fill="#222" text-anchor="middle" font-weight="normal">IA</text>
<text x="529.80" y="884.20" font-size="14.3" fill="#222" text-anchor="middle" font-weight="normal">Damaged</text>
<text x="529.80" y="901.15" font-size="14.3" fill="#222" text-anchor="middle" font-weight="normal">IA</text>
<text x="592.00" y="884.20" font-size="14.3" fill="#222" text-anchor="middle" font-weight="normal">Absent</text>
<text x="592.00" y="901.15" font-size="14.3" fill="#222" text-anchor="middle" font-weight="normal">IA</text>
<line x1="403.55" y1="681.30" x2="403.55" y2="696.20" stroke="#a3a3a3" stroke-width="1.6"/>
<line x1="397.40" y1="681.30" x2="409.70" y2="681.30" stroke="#a3a3a3" stroke-width="1.6"/>
<line x1="403.55" y1="712.00" x2="403.55" y2="730.00" stroke="#a3a3a3" stroke-width="1.6"/>
<line x1="397.40" y1="730.00" x2="409.70" y2="730.00" stroke="#a3a3a3" stroke-width="1.6"/>
<rect x="390.60" y="696.20" width="25.90" height="15.80" fill="none" stroke="#a3a3a3" stroke-width="1.6"/>
<line x1="466.30" y1="690.90" x2="466.30" y2="712.10" stroke="#a3a3a3" stroke-width="1.6"/>
<line x1="459.60" y1="690.90" x2="473.00" y2="690.90" stroke="#a3a3a3" stroke-width="1.6"/>
<rect x="453.30" y="712.10" width="26.00" height="16.10" fill="none" stroke="#a3a3a3" stroke-width="1.6"/>
<line x1="529.45" y1="694.60" x2="529.45" y2="712.00" stroke="#a3a3a3" stroke-width="1.6"/>
<line x1="522.70" y1="694.60" x2="536.20" y2="694.60" stroke="#a3a3a3" stroke-width="1.6"/>
<line x1="529.45" y1="729.60" x2="529.45" y2="736.10" stroke="#a3a3a3" stroke-width="1.6"/>
<line x1="522.70" y1="736.10" x2="536.20" y2="736.10" stroke="#a3a3a3" stroke-width="1.6"/>
<rect x="516.60" y="712.00" width="25.70" height="17.60" fill="none" stroke="#a3a3a3" stroke-width="1.6"/>
<rect x="579.20" y="712.30" width="26.20" height="5.60" fill="none" stroke="#a3a3a3" stroke-width="1.6"/>
<line x1="390.60" y1="712.00" x2="416.50" y2="712.00" stroke="#000" stroke-width="2.3" stroke-linecap="round"/>
<line x1="453.30" y1="715.80" x2="479.30" y2="715.80" stroke="#000" stroke-width="2.3" stroke-linecap="round"/>
<line x1="516.60" y1="722.70" x2="542.30" y2="722.70" stroke="#000" stroke-width="2.3" stroke-linecap="round"/>
<line x1="579.20" y1="712.30" x2="605.40" y2="712.30" stroke="#000" stroke-width="2.3" stroke-linecap="round"/>
<circle cx="411.85" cy="681.13" r="2.65" fill="#f59aac" fill-opacity="0.6"/>
<circle cx="397.84" cy="685.51" r="2.65" fill="#f59aac" fill-opacity="0.6"/>
<circle cx="403.09" cy="685.51" r="2.65" fill="#f59aac" fill-opacity="0.6"/>
<circle cx="408.35" cy="685.51" r="2.65" fill="#f59aac" fill-opacity="0.6"/>
<circle cx="385.14" cy="690.77" r="2.65" fill="#f59aac" fill-opacity="0.6"/>
<circle cx="390.39" cy="692.34" r="2.65" fill="#f59aac" fill-opacity="0.6"/>
<circle cx="395.65" cy="692.08" r="2.65" fill="#f59aac" fill-opacity="0.6"/>
<circle cx="400.47" cy="694.44" r="2.65" fill="#f59aac" fill-opacity="0.6"/>
<circle cx="405.72" cy="694.44" r="2.65" fill="#f59aac" fill-opacity="0.6"/>
<circle cx="410.54" cy="692.34" r="2.65" fill="#f59aac" fill-opacity="0.6"/>
<circle cx="415.79" cy="692.34" r="2.65" fill="#f59aac" fill-opacity="0.6"/>
<circle cx="403.09" cy="699.35" r="2.65" fill="#f59aac" fill-opacity="0.6"/>
<circle cx="377.96" cy="711.61" r="2.65" fill="#f59aac" fill-opacity="0.6"/>
<circle cx="377.78" cy="711.79" r="2.65" fill="#f59aac" fill-opacity="0.6"/>
<circle cx="383.39" cy="711.61" r="2.65" fill="#f59aac" fill-opacity="0.6"/>
<circle cx="388.64" cy="711.61" r="2.65" fill="#f59aac" fill-opacity="0.6"/>
<circle cx="394.34" cy="711.61" r="2.65" fill="#f59aac" fill-opacity="0.6"/>
<circle cx="403.09" cy="711.61" r="2.65" fill="#f59aac" fill-opacity="0.6"/>
<circle cx="411.85" cy="711.61" r="2.65" fill="#f59aac" fill-opacity="0.6"/>
<circle cx="417.55" cy="711.61" r="2.65" fill="#f59aac" fill-opacity="0.6"/>
<circle cx="422.63" cy="711.61" r="2.65" fill="#f59aac" fill-opacity="0.6"/>
<circle cx="428.06" cy="711.61" r="2.65" fill="#f59aac" fill-opacity="0.6"/>
<circle cx="428.23" cy="711.79" r="2.65" fill="#f59aac" fill-opacity="0.6"/>
<circle cx="398.10" cy="715.47" r="2.65" fill="#f59aac" fill-opacity="0.6"/>
<circle cx="407.91" cy="715.47" r="2.65" fill="#f59aac" fill-opacity="0.6"/>
<circle cx="403.09" cy="717.74" r="2.65" fill="#f59aac" fill-opacity="0.6"/>
<circle cx="401.78" cy="724.05" r="2.65" fill="#f59aac" fill-opacity="0.6"/>
<circle cx="403.09" cy="729.74" r="2.65" fill="#f59aac" fill-opacity="0.6"/>
<circle cx="460.80" cy="690.58" r="2.65" fill="#9d80e2" fill-opacity="0.6"/>
<circle cx="466.28" cy="692.77" r="2.65" fill="#9d80e2" fill-opacity="0.6"/>
<circle cx="465.91" cy="699.34" r="2.65" fill="#9d80e2" fill-opacity="0.6"/>
<circle cx="451.31" cy="711.75" r="2.65" fill="#9d80e2" fill-opacity="0.6"/>
<circle cx="456.79" cy="711.39" r="2.65" fill="#9d80e2" fill-opacity="0.6"/>
<circle cx="469.93" cy="711.39" r="2.65" fill="#9d80e2" fill-opacity="0.6"/>
<circle cx="475.04" cy="711.39" r="2.65" fill="#9d80e2" fill-opacity="0.6"/>
<circle cx="480.51" cy="711.53" r="2.65" fill="#9d80e2" fill-opacity="0.6"/>
<circle cx="460.44" cy="720.88" r="2.65" fill="#9d80e2" fill-opacity="0.6"/>
<circle cx="464.82" cy="723.80" r="2.65" fill="#9d80e2" fill-opacity="0.6"/>
<circle cx="470.29" cy="723.43" r="2.65" fill="#9d80e2" fill-opacity="0.6"/>
<circle cx="460.44" cy="728.18" r="2.65" fill="#9d80e2" fill-opacity="0.6"/>
<circle cx="465.55" cy="728.54" r="2.65" fill="#9d80e2" fill-opacity="0.6"/>
<circle cx="466.20" cy="758.50" r="2.65" fill="#9d80e2" fill-opacity="0.6"/>
<circle cx="466.20" cy="777.00" r="2.65" fill="#9d80e2" fill-opacity="0.6"/>
<circle cx="466.20" cy="786.00" r="2.65" fill="#9d80e2" fill-opacity="0.6"/>
<circle cx="525.88" cy="693.83" r="2.65" fill="#ecdc88" fill-opacity="0.6"/>
<circle cx="529.09" cy="699.13" r="2.65" fill="#ecdc88" fill-opacity="0.6"/>
<circle cx="524.27" cy="711.02" r="2.65" fill="#ecdc88" fill-opacity="0.6"/>
<circle cx="529.09" cy="711.02" r="2.65" fill="#ecdc88" fill-opacity="0.6"/>
<circle cx="520.26" cy="720.65" r="2.65" fill="#ecdc88" fill-opacity="0.6"/>
<circle cx="529.09" cy="720.65" r="2.65" fill="#ecdc88" fill-opacity="0.6"/>
<circle cx="524.27" cy="723.54" r="2.65" fill="#ecdc88" fill-opacity="0.6"/>
<circle cx="529.09" cy="727.07" r="2.65" fill="#ecdc88" fill-opacity="0.6"/>
<circle cx="529.09" cy="736.07" r="2.65" fill="#ecdc88" fill-opacity="0.6"/>
<circle cx="529.50" cy="785.20" r="2.65" fill="#ecdc88" fill-opacity="0.6"/>
<circle cx="529.50" cy="860.50" r="2.65" fill="#ecdc88" fill-opacity="0.6"/>
<circle cx="591.60" cy="681.20" r="2.65" fill="#6dceae" fill-opacity="0.6"/>
<circle cx="578.07" cy="711.50" r="2.65" fill="#6dceae" fill-opacity="0.6"/>
<circle cx="583.37" cy="710.69" r="2.65" fill="#6dceae" fill-opacity="0.6"/>
<circle cx="588.51" cy="712.30" r="2.65" fill="#6dceae" fill-opacity="0.6"/>
<circle cx="594.93" cy="711.50" r="2.65" fill="#6dceae" fill-opacity="0.6"/>
<circle cx="601.35" cy="711.02" r="2.65" fill="#6dceae" fill-opacity="0.6"/>
<circle cx="586.90" cy="715.83" r="2.65" fill="#6dceae" fill-opacity="0.6"/>
<circle cx="592.52" cy="718.72" r="2.65" fill="#6dceae" fill-opacity="0.6"/>
<circle cx="591.60" cy="785.20" r="2.65" fill="#6dceae" fill-opacity="0.6"/>
<circle cx="591.60" cy="841.50" r="2.65" fill="#6dceae" fill-opacity="0.6"/>
<text x="463.30" y="765.75" font-size="10.4" font-weight="bold" fill="#000" stroke="#000" stroke-width="0.35" text-anchor="middle">B</text>
<text x="518.65" y="714.57" font-size="10.4" font-weight="bold" fill="#000" stroke="#000" stroke-width="0.35" text-anchor="middle">B</text>
<text x="533.10" y="715.85" font-size="10.4" font-weight="bold" fill="#000" stroke="#000" stroke-width="0.35" text-anchor="middle">B</text>
<text x="576.46" y="711.03" font-size="10.4" font-weight="bold" fill="#000" stroke="#000" stroke-width="0.35" text-anchor="middle">B</text>
<text x="600.55" y="712.32" font-size="10.4" font-weight="bold" fill="#000" stroke="#000" stroke-width="0.35" text-anchor="middle">B</text>
<text x="595.73" y="724.20" font-size="10.4" font-weight="bold" fill="#000" stroke="#000" stroke-width="0.35" text-anchor="middle">B</text>
<text x="464.80" y="719.40" font-size="11.2" font-weight="bold" fill="#000" stroke="#000" stroke-width="0.35" text-anchor="middle">x</text>
<text x="471.80" y="729.60" font-size="11.2" font-weight="bold" fill="#000" stroke="#000" stroke-width="0.35" text-anchor="middle">x</text>
<text x="532.00" y="766.40" font-size="11.2" font-weight="bold" fill="#000" stroke="#000" stroke-width="0.35" text-anchor="middle">x</text>
<text x="525.00" y="788.10" font-size="11.2" font-weight="bold" fill="#000" stroke="#000" stroke-width="0.35" text-anchor="middle">x</text>
<text x="526.00" y="860.10" font-size="11.2" font-weight="bold" fill="#000" stroke="#000" stroke-width="0.35" text-anchor="middle">x</text>
<text x="595.90" y="789.10" font-size="11.2" font-weight="bold" fill="#000" stroke="#000" stroke-width="0.35" text-anchor="middle">x</text>
<text x="595.90" y="845.40" font-size="11.2" font-weight="bold" fill="#000" stroke="#000" stroke-width="0.35" text-anchor="middle">x</text>
<text x="515.92" y="724.51" font-size="11.2" font-weight="bold" fill="#000" stroke="#000" stroke-width="0.35" text-anchor="middle">x</text>
<text x="536.32" y="728.05" font-size="11.2" font-weight="bold" fill="#000" stroke="#000" stroke-width="0.35" text-anchor="middle">x</text>
<text x="589.79" y="710.38" font-size="11.2" font-weight="bold" fill="#000" stroke="#000" stroke-width="0.35" text-anchor="middle">x</text>
<line x1="404.10" y1="823.80" x2="527.70" y2="823.80" stroke="#a3282c" stroke-width="1.9" stroke-dasharray="5.3 3.8"/>
<polyline points="407.80,819.60 401.50,823.80 407.80,828.00" fill="none" stroke="#a3282c" stroke-width="1.9"/>
<polyline points="523.50,819.60 529.80,823.80 523.50,828.00" fill="none" stroke="#a3282c" stroke-width="1.9"/>
<line x1="404.10" y1="844.40" x2="463.00" y2="844.40" stroke="#a3282c" stroke-width="1.9" stroke-dasharray="5.3 3.8"/>
<polyline points="407.80,840.20 401.50,844.40 407.80,848.60" fill="none" stroke="#a3282c" stroke-width="1.9"/>
<polyline points="458.80,840.20 465.10,844.40 458.80,848.60" fill="none" stroke="#a3282c" stroke-width="1.9"/>
<text x="466.90" y="826.60" font-size="16" fill="#a3282c" text-anchor="middle" font-weight="bold" letter-spacing="1.6">**</text>
<text x="434.40" y="846.60" font-size="16" fill="#a3282c" text-anchor="middle" font-weight="bold">*</text>
</svg></body></html>
